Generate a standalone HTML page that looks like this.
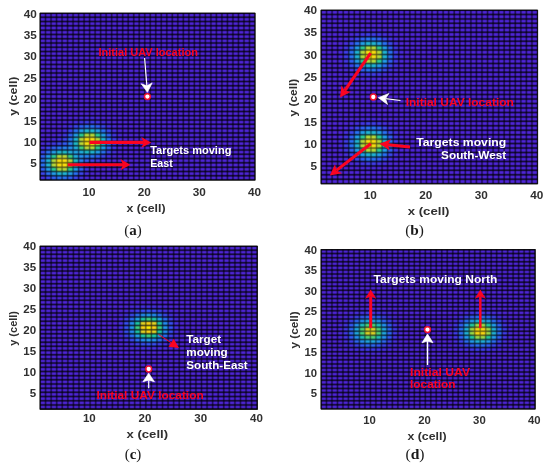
<!DOCTYPE html>
<html lang="en"><head><meta charset="utf-8"><title>UAV target scenarios</title>
<style>html,body{margin:0;padding:0;background:#fff}body{width:550px;height:467px;overflow:hidden}svg{display:block;font-family:"Liberation Sans",Arial,sans-serif}</style></head><body>
<svg width="550" height="467" viewBox="0 0 550 467">
<defs><filter id="soft" x="-2%" y="-2%" width="104%" height="104%"><feGaussianBlur stdDeviation="0.7"/></filter><filter id="tsoft"><feGaussianBlur stdDeviation="0.3"/></filter><radialGradient id="glowH"><stop offset="0" stop-color="#ffe800" stop-opacity="0.5"/><stop offset="0.22" stop-color="#e6e020" stop-opacity="0.45"/><stop offset="0.42" stop-color="#40d088" stop-opacity="0.34"/><stop offset="0.62" stop-color="#20a8e8" stop-opacity="0.24"/><stop offset="0.82" stop-color="#3070f8" stop-opacity="0.12"/><stop offset="1" stop-color="#4050f0" stop-opacity="0"/></radialGradient><radialGradient id="glowL"><stop offset="0" stop-color="#d8e020" stop-opacity="0.5"/><stop offset="0.2" stop-color="#90d850" stop-opacity="0.42"/><stop offset="0.4" stop-color="#30c8a0" stop-opacity="0.32"/><stop offset="0.62" stop-color="#20a0e8" stop-opacity="0.22"/><stop offset="0.82" stop-color="#3070f8" stop-opacity="0.1"/><stop offset="1" stop-color="#4050f0" stop-opacity="0"/></radialGradient></defs>
<rect width="550" height="467" fill="#fff"/>
<clipPath id="cpa"><rect x="39.3" y="12.5" width="216.5" height="168.3"/></clipPath>
<g clip-path="url(#cpa)">
<rect x="40" y="13" width="215" height="167" fill="#4f26d7"/>
<rect x="40" y="175.72" width="5.56" height="4.33" fill="#4731e3"/>
<rect x="40" y="171.44" width="5.56" height="4.33" fill="#3d46ee"/>
<rect x="40" y="167.15" width="5.56" height="4.33" fill="#315ef5"/>
<rect x="40" y="162.87" width="5.56" height="4.33" fill="#2a6ff5"/>
<rect x="40" y="158.59" width="5.56" height="4.33" fill="#2a6ff5"/>
<rect x="40" y="154.31" width="5.56" height="4.33" fill="#315ef5"/>
<rect x="40" y="150.03" width="5.56" height="4.33" fill="#3d46ee"/>
<rect x="40" y="145.74" width="5.56" height="4.33" fill="#4731e3"/>
<rect x="40" y="141.46" width="5.56" height="4.33" fill="#4c2adc"/>
<rect x="45.51" y="175.72" width="5.56" height="4.33" fill="#3d46ee"/>
<rect x="45.51" y="171.44" width="5.56" height="4.33" fill="#2a6ff5"/>
<rect x="45.51" y="167.15" width="5.56" height="4.33" fill="#229ceb"/>
<rect x="45.51" y="162.87" width="5.56" height="4.33" fill="#1eb3d8"/>
<rect x="45.51" y="158.59" width="5.56" height="4.33" fill="#1eb3d8"/>
<rect x="45.51" y="154.31" width="5.56" height="4.33" fill="#229ceb"/>
<rect x="45.51" y="150.03" width="5.56" height="4.33" fill="#2a6ff5"/>
<rect x="45.51" y="145.74" width="5.56" height="4.33" fill="#3d46ef"/>
<rect x="45.51" y="141.46" width="5.56" height="4.33" fill="#482fe1"/>
<rect x="51.03" y="175.72" width="5.56" height="4.33" fill="#315ef5"/>
<rect x="51.03" y="171.44" width="5.56" height="4.33" fill="#229ceb"/>
<rect x="51.03" y="167.15" width="5.56" height="4.33" fill="#26cb94"/>
<rect x="51.03" y="162.87" width="5.56" height="4.33" fill="#c8d82c"/>
<rect x="51.03" y="158.59" width="5.56" height="4.33" fill="#c8d82c"/>
<rect x="51.03" y="154.31" width="5.56" height="4.33" fill="#27cb93"/>
<rect x="51.03" y="150.03" width="5.56" height="4.33" fill="#229ceb"/>
<rect x="51.03" y="145.74" width="5.56" height="4.33" fill="#3160f5"/>
<rect x="51.03" y="141.46" width="5.56" height="4.33" fill="#4338e7"/>
<rect x="51.03" y="137.18" width="5.56" height="4.33" fill="#4b2bdd"/>
<rect x="56.54" y="175.72" width="5.56" height="4.33" fill="#2a6ff5"/>
<rect x="56.54" y="171.44" width="5.56" height="4.33" fill="#1eb3d8"/>
<rect x="56.54" y="167.15" width="5.56" height="4.33" fill="#c8d82c"/>
<rect x="56.54" y="162.87" width="5.56" height="4.33" fill="#ffdb0d"/>
<rect x="56.54" y="158.59" width="5.56" height="4.33" fill="#ffdb0d"/>
<rect x="56.54" y="154.31" width="5.56" height="4.33" fill="#ccd72b"/>
<rect x="56.54" y="150.03" width="5.56" height="4.33" fill="#1eb5d5"/>
<rect x="56.54" y="145.74" width="5.56" height="4.33" fill="#2875f5"/>
<rect x="56.54" y="141.46" width="5.56" height="4.33" fill="#3d46ee"/>
<rect x="56.54" y="137.18" width="5.56" height="4.33" fill="#4731e2"/>
<rect x="56.54" y="132.9" width="5.56" height="4.33" fill="#4b2bdd"/>
<rect x="62.05" y="175.72" width="5.56" height="4.33" fill="#2a6ff5"/>
<rect x="62.05" y="171.44" width="5.56" height="4.33" fill="#1eb3d8"/>
<rect x="62.05" y="167.15" width="5.56" height="4.33" fill="#c8d82c"/>
<rect x="62.05" y="162.87" width="5.56" height="4.33" fill="#ffdb0d"/>
<rect x="62.05" y="158.59" width="5.56" height="4.33" fill="#ffdd0c"/>
<rect x="62.05" y="154.31" width="5.56" height="4.33" fill="#d6d527"/>
<rect x="62.05" y="150.03" width="5.56" height="4.33" fill="#1cbac6"/>
<rect x="62.05" y="145.74" width="5.56" height="4.33" fill="#2684f3"/>
<rect x="62.05" y="141.46" width="5.56" height="4.33" fill="#335bf5"/>
<rect x="62.05" y="137.18" width="5.56" height="4.33" fill="#3d46ee"/>
<rect x="62.05" y="132.9" width="5.56" height="4.33" fill="#4338e7"/>
<rect x="62.05" y="128.62" width="5.56" height="4.33" fill="#482fe1"/>
<rect x="62.05" y="124.33" width="5.56" height="4.33" fill="#4c2adc"/>
<rect x="67.56" y="175.72" width="5.56" height="4.33" fill="#315ef5"/>
<rect x="67.56" y="171.44" width="5.56" height="4.33" fill="#229ceb"/>
<rect x="67.56" y="167.15" width="5.56" height="4.33" fill="#27cb93"/>
<rect x="67.56" y="162.87" width="5.56" height="4.33" fill="#ccd72b"/>
<rect x="67.56" y="158.59" width="5.56" height="4.33" fill="#d6d527"/>
<rect x="67.56" y="154.31" width="5.56" height="4.33" fill="#44d278"/>
<rect x="67.56" y="150.03" width="5.56" height="4.33" fill="#1eb3d8"/>
<rect x="67.56" y="145.74" width="5.56" height="4.33" fill="#2397ef"/>
<rect x="67.56" y="141.46" width="5.56" height="4.33" fill="#2684f3"/>
<rect x="67.56" y="137.18" width="5.56" height="4.33" fill="#2875f5"/>
<rect x="67.56" y="132.9" width="5.56" height="4.33" fill="#3160f5"/>
<rect x="67.56" y="128.62" width="5.56" height="4.33" fill="#3d46ef"/>
<rect x="67.56" y="124.33" width="5.56" height="4.33" fill="#4731e3"/>
<rect x="67.56" y="120.05" width="5.56" height="4.33" fill="#4c2adb"/>
<rect x="73.08" y="175.72" width="5.56" height="4.33" fill="#3d46ee"/>
<rect x="73.08" y="171.44" width="5.56" height="4.33" fill="#2a6ff5"/>
<rect x="73.08" y="167.15" width="5.56" height="4.33" fill="#229ceb"/>
<rect x="73.08" y="162.87" width="5.56" height="4.33" fill="#1eb5d5"/>
<rect x="73.08" y="158.59" width="5.56" height="4.33" fill="#1cbac6"/>
<rect x="73.08" y="154.31" width="5.56" height="4.33" fill="#1eb3d8"/>
<rect x="73.08" y="150.03" width="5.56" height="4.33" fill="#1faddd"/>
<rect x="73.08" y="145.74" width="5.56" height="4.33" fill="#1eb3d8"/>
<rect x="73.08" y="141.46" width="5.56" height="4.33" fill="#1cbac6"/>
<rect x="73.08" y="137.18" width="5.56" height="4.33" fill="#1eb5d5"/>
<rect x="73.08" y="132.9" width="5.56" height="4.33" fill="#229ceb"/>
<rect x="73.08" y="128.62" width="5.56" height="4.33" fill="#2a6ff5"/>
<rect x="73.08" y="124.33" width="5.56" height="4.33" fill="#3d46ee"/>
<rect x="73.08" y="120.05" width="5.56" height="4.33" fill="#482fe0"/>
<rect x="78.59" y="175.72" width="5.56" height="4.33" fill="#4731e3"/>
<rect x="78.59" y="171.44" width="5.56" height="4.33" fill="#3d46ef"/>
<rect x="78.59" y="167.15" width="5.56" height="4.33" fill="#3160f5"/>
<rect x="78.59" y="162.87" width="5.56" height="4.33" fill="#2875f5"/>
<rect x="78.59" y="158.59" width="5.56" height="4.33" fill="#2684f3"/>
<rect x="78.59" y="154.31" width="5.56" height="4.33" fill="#2397ef"/>
<rect x="78.59" y="150.03" width="5.56" height="4.33" fill="#1eb3d8"/>
<rect x="78.59" y="145.74" width="5.56" height="4.33" fill="#44d278"/>
<rect x="78.59" y="141.46" width="5.56" height="4.33" fill="#d6d527"/>
<rect x="78.59" y="137.18" width="5.56" height="4.33" fill="#ccd72b"/>
<rect x="78.59" y="132.9" width="5.56" height="4.33" fill="#27cb93"/>
<rect x="78.59" y="128.62" width="5.56" height="4.33" fill="#229ceb"/>
<rect x="78.59" y="124.33" width="5.56" height="4.33" fill="#315ef5"/>
<rect x="78.59" y="120.05" width="5.56" height="4.33" fill="#4436e6"/>
<rect x="78.59" y="115.77" width="5.56" height="4.33" fill="#4c2adb"/>
<rect x="84.1" y="175.72" width="5.56" height="4.33" fill="#4c2adc"/>
<rect x="84.1" y="171.44" width="5.56" height="4.33" fill="#482fe1"/>
<rect x="84.1" y="167.15" width="5.56" height="4.33" fill="#4338e7"/>
<rect x="84.1" y="162.87" width="5.56" height="4.33" fill="#3d46ee"/>
<rect x="84.1" y="158.59" width="5.56" height="4.33" fill="#335bf5"/>
<rect x="84.1" y="154.31" width="5.56" height="4.33" fill="#2684f3"/>
<rect x="84.1" y="150.03" width="5.56" height="4.33" fill="#1cbac6"/>
<rect x="84.1" y="145.74" width="5.56" height="4.33" fill="#d6d527"/>
<rect x="84.1" y="141.46" width="5.56" height="4.33" fill="#ffdd0c"/>
<rect x="84.1" y="137.18" width="5.56" height="4.33" fill="#ffdb0d"/>
<rect x="84.1" y="132.9" width="5.56" height="4.33" fill="#c8d82c"/>
<rect x="84.1" y="128.62" width="5.56" height="4.33" fill="#1eb3d8"/>
<rect x="84.1" y="124.33" width="5.56" height="4.33" fill="#2a6ff5"/>
<rect x="84.1" y="120.05" width="5.56" height="4.33" fill="#413dea"/>
<rect x="84.1" y="115.77" width="5.56" height="4.33" fill="#4b2bdd"/>
<rect x="89.62" y="167.15" width="5.56" height="4.33" fill="#4b2bdd"/>
<rect x="89.62" y="162.87" width="5.56" height="4.33" fill="#4731e2"/>
<rect x="89.62" y="158.59" width="5.56" height="4.33" fill="#3d46ee"/>
<rect x="89.62" y="154.31" width="5.56" height="4.33" fill="#2875f5"/>
<rect x="89.62" y="150.03" width="5.56" height="4.33" fill="#1eb5d5"/>
<rect x="89.62" y="145.74" width="5.56" height="4.33" fill="#ccd72b"/>
<rect x="89.62" y="141.46" width="5.56" height="4.33" fill="#ffdb0d"/>
<rect x="89.62" y="137.18" width="5.56" height="4.33" fill="#ffdb0d"/>
<rect x="89.62" y="132.9" width="5.56" height="4.33" fill="#c8d82c"/>
<rect x="89.62" y="128.62" width="5.56" height="4.33" fill="#1eb3d8"/>
<rect x="89.62" y="124.33" width="5.56" height="4.33" fill="#2a6ff5"/>
<rect x="89.62" y="120.05" width="5.56" height="4.33" fill="#413dea"/>
<rect x="89.62" y="115.77" width="5.56" height="4.33" fill="#4b2bdd"/>
<rect x="95.13" y="162.87" width="5.56" height="4.33" fill="#4b2bdd"/>
<rect x="95.13" y="158.59" width="5.56" height="4.33" fill="#4338e7"/>
<rect x="95.13" y="154.31" width="5.56" height="4.33" fill="#3160f5"/>
<rect x="95.13" y="150.03" width="5.56" height="4.33" fill="#229ceb"/>
<rect x="95.13" y="145.74" width="5.56" height="4.33" fill="#27cb93"/>
<rect x="95.13" y="141.46" width="5.56" height="4.33" fill="#c8d82c"/>
<rect x="95.13" y="137.18" width="5.56" height="4.33" fill="#c8d82c"/>
<rect x="95.13" y="132.9" width="5.56" height="4.33" fill="#26cb94"/>
<rect x="95.13" y="128.62" width="5.56" height="4.33" fill="#229ceb"/>
<rect x="95.13" y="124.33" width="5.56" height="4.33" fill="#315ef5"/>
<rect x="95.13" y="120.05" width="5.56" height="4.33" fill="#4436e6"/>
<rect x="95.13" y="115.77" width="5.56" height="4.33" fill="#4c2adb"/>
<rect x="100.64" y="158.59" width="5.56" height="4.33" fill="#482fe1"/>
<rect x="100.64" y="154.31" width="5.56" height="4.33" fill="#3d46ef"/>
<rect x="100.64" y="150.03" width="5.56" height="4.33" fill="#2a6ff5"/>
<rect x="100.64" y="145.74" width="5.56" height="4.33" fill="#229ceb"/>
<rect x="100.64" y="141.46" width="5.56" height="4.33" fill="#1eb3d8"/>
<rect x="100.64" y="137.18" width="5.56" height="4.33" fill="#1eb3d8"/>
<rect x="100.64" y="132.9" width="5.56" height="4.33" fill="#229ceb"/>
<rect x="100.64" y="128.62" width="5.56" height="4.33" fill="#2a6ff5"/>
<rect x="100.64" y="124.33" width="5.56" height="4.33" fill="#3d46ee"/>
<rect x="100.64" y="120.05" width="5.56" height="4.33" fill="#482fe0"/>
<rect x="106.15" y="158.59" width="5.56" height="4.33" fill="#4c2adc"/>
<rect x="106.15" y="154.31" width="5.56" height="4.33" fill="#4731e3"/>
<rect x="106.15" y="150.03" width="5.56" height="4.33" fill="#3d46ee"/>
<rect x="106.15" y="145.74" width="5.56" height="4.33" fill="#315ef5"/>
<rect x="106.15" y="141.46" width="5.56" height="4.33" fill="#2a6ff5"/>
<rect x="106.15" y="137.18" width="5.56" height="4.33" fill="#2a6ff5"/>
<rect x="106.15" y="132.9" width="5.56" height="4.33" fill="#315ef5"/>
<rect x="106.15" y="128.62" width="5.56" height="4.33" fill="#3d46ee"/>
<rect x="106.15" y="124.33" width="5.56" height="4.33" fill="#4731e3"/>
<rect x="106.15" y="120.05" width="5.56" height="4.33" fill="#4c2adb"/>
<rect x="111.67" y="154.31" width="5.56" height="4.33" fill="#4c2adb"/>
<rect x="111.67" y="150.03" width="5.56" height="4.33" fill="#482fe0"/>
<rect x="111.67" y="145.74" width="5.56" height="4.33" fill="#4436e6"/>
<rect x="111.67" y="141.46" width="5.56" height="4.33" fill="#413dea"/>
<rect x="111.67" y="137.18" width="5.56" height="4.33" fill="#413dea"/>
<rect x="111.67" y="132.9" width="5.56" height="4.33" fill="#4436e6"/>
<rect x="111.67" y="128.62" width="5.56" height="4.33" fill="#482fe0"/>
<rect x="111.67" y="124.33" width="5.56" height="4.33" fill="#4c2adb"/>
<rect x="117.18" y="145.74" width="5.56" height="4.33" fill="#4c2adb"/>
<rect x="117.18" y="141.46" width="5.56" height="4.33" fill="#4b2bdd"/>
<rect x="117.18" y="137.18" width="5.56" height="4.33" fill="#4b2bdd"/>
<rect x="117.18" y="132.9" width="5.56" height="4.33" fill="#4c2adb"/>
<path d="M40 13V180M45.51 13V180M51.03 13V180M56.54 13V180M62.05 13V180M67.56 13V180M73.08 13V180M78.59 13V180M84.1 13V180M89.62 13V180M95.13 13V180M100.64 13V180M106.15 13V180M111.67 13V180M117.18 13V180M122.69 13V180M128.21 13V180M133.72 13V180M139.23 13V180M144.74 13V180M150.26 13V180M155.77 13V180M161.28 13V180M166.79 13V180M172.31 13V180M177.82 13V180M183.33 13V180M188.85 13V180M194.36 13V180M199.87 13V180M205.38 13V180M210.9 13V180M216.41 13V180M221.92 13V180M227.44 13V180M232.95 13V180M238.46 13V180M243.97 13V180M249.49 13V180M255 13V180" stroke="#000" stroke-opacity="0.018" stroke-width="3.5" fill="none"/>
<path d="M40 13V180M45.51 13V180M51.03 13V180M56.54 13V180M62.05 13V180M67.56 13V180M73.08 13V180M78.59 13V180M84.1 13V180M89.62 13V180M95.13 13V180M100.64 13V180M106.15 13V180M111.67 13V180M117.18 13V180M122.69 13V180M128.21 13V180M133.72 13V180M139.23 13V180M144.74 13V180M150.26 13V180M155.77 13V180M161.28 13V180M166.79 13V180M172.31 13V180M177.82 13V180M183.33 13V180M188.85 13V180M194.36 13V180M199.87 13V180M205.38 13V180M210.9 13V180M216.41 13V180M221.92 13V180M227.44 13V180M232.95 13V180M238.46 13V180M243.97 13V180M249.49 13V180M255 13V180" stroke="#000" stroke-opacity="0.118" stroke-width="2.5" fill="none"/>
<path d="M40 13V180M45.51 13V180M51.03 13V180M56.54 13V180M62.05 13V180M67.56 13V180M73.08 13V180M78.59 13V180M84.1 13V180M89.62 13V180M95.13 13V180M100.64 13V180M106.15 13V180M111.67 13V180M117.18 13V180M122.69 13V180M128.21 13V180M133.72 13V180M139.23 13V180M144.74 13V180M150.26 13V180M155.77 13V180M161.28 13V180M166.79 13V180M172.31 13V180M177.82 13V180M183.33 13V180M188.85 13V180M194.36 13V180M199.87 13V180M205.38 13V180M210.9 13V180M216.41 13V180M221.92 13V180M227.44 13V180M232.95 13V180M238.46 13V180M243.97 13V180M249.49 13V180M255 13V180" stroke="#000" stroke-opacity="0.344" stroke-width="1.5" fill="none"/>
<path d="M40 13V180M45.51 13V180M51.03 13V180M56.54 13V180M62.05 13V180M67.56 13V180M73.08 13V180M78.59 13V180M84.1 13V180M89.62 13V180M95.13 13V180M100.64 13V180M106.15 13V180M111.67 13V180M117.18 13V180M122.69 13V180M128.21 13V180M133.72 13V180M139.23 13V180M144.74 13V180M150.26 13V180M155.77 13V180M161.28 13V180M166.79 13V180M172.31 13V180M177.82 13V180M183.33 13V180M188.85 13V180M194.36 13V180M199.87 13V180M205.38 13V180M210.9 13V180M216.41 13V180M221.92 13V180M227.44 13V180M232.95 13V180M238.46 13V180M243.97 13V180M249.49 13V180M255 13V180" stroke="#000" stroke-opacity="0.353" stroke-width="0.6" fill="none"/>
<path d="M40 13H255M40 17.28H255M40 21.56H255M40 25.85H255M40 30.13H255M40 34.41H255M40 38.69H255M40 42.97H255M40 47.26H255M40 51.54H255M40 55.82H255M40 60.1H255M40 64.38H255M40 68.67H255M40 72.95H255M40 77.23H255M40 81.51H255M40 85.79H255M40 90.08H255M40 94.36H255M40 98.64H255M40 102.92H255M40 107.21H255M40 111.49H255M40 115.77H255M40 120.05H255M40 124.33H255M40 128.62H255M40 132.9H255M40 137.18H255M40 141.46H255M40 145.74H255M40 150.03H255M40 154.31H255M40 158.59H255M40 162.87H255M40 167.15H255M40 171.44H255M40 175.72H255M40 180H255" stroke="#000" stroke-opacity="0.041" stroke-width="3.5" fill="none"/>
<path d="M40 13H255M40 17.28H255M40 21.56H255M40 25.85H255M40 30.13H255M40 34.41H255M40 38.69H255M40 42.97H255M40 47.26H255M40 51.54H255M40 55.82H255M40 60.1H255M40 64.38H255M40 68.67H255M40 72.95H255M40 77.23H255M40 81.51H255M40 85.79H255M40 90.08H255M40 94.36H255M40 98.64H255M40 102.92H255M40 107.21H255M40 111.49H255M40 115.77H255M40 120.05H255M40 124.33H255M40 128.62H255M40 132.9H255M40 137.18H255M40 141.46H255M40 145.74H255M40 150.03H255M40 154.31H255M40 158.59H255M40 162.87H255M40 167.15H255M40 171.44H255M40 175.72H255M40 180H255" stroke="#000" stroke-opacity="0.196" stroke-width="2.5" fill="none"/>
<path d="M40 13H255M40 17.28H255M40 21.56H255M40 25.85H255M40 30.13H255M40 34.41H255M40 38.69H255M40 42.97H255M40 47.26H255M40 51.54H255M40 55.82H255M40 60.1H255M40 64.38H255M40 68.67H255M40 72.95H255M40 77.23H255M40 81.51H255M40 85.79H255M40 90.08H255M40 94.36H255M40 98.64H255M40 102.92H255M40 107.21H255M40 111.49H255M40 115.77H255M40 120.05H255M40 124.33H255M40 128.62H255M40 132.9H255M40 137.18H255M40 141.46H255M40 145.74H255M40 150.03H255M40 154.31H255M40 158.59H255M40 162.87H255M40 167.15H255M40 171.44H255M40 175.72H255M40 180H255" stroke="#000" stroke-opacity="0.469" stroke-width="1.5" fill="none"/>
<path d="M40 13H255M40 17.28H255M40 21.56H255M40 25.85H255M40 30.13H255M40 34.41H255M40 38.69H255M40 42.97H255M40 47.26H255M40 51.54H255M40 55.82H255M40 60.1H255M40 64.38H255M40 68.67H255M40 72.95H255M40 77.23H255M40 81.51H255M40 85.79H255M40 90.08H255M40 94.36H255M40 98.64H255M40 102.92H255M40 107.21H255M40 111.49H255M40 115.77H255M40 120.05H255M40 124.33H255M40 128.62H255M40 132.9H255M40 137.18H255M40 141.46H255M40 145.74H255M40 150.03H255M40 154.31H255M40 158.59H255M40 162.87H255M40 167.15H255M40 171.44H255M40 175.72H255M40 180H255" stroke="#000" stroke-opacity="0.493" stroke-width="0.6" fill="none"/>
<rect x="40.05" y="13.2" width="215.1" height="167" fill="none" stroke="#000" stroke-opacity="0.75" stroke-width="1.3"/>
<ellipse cx="62.05" cy="162.87" rx="25.36" ry="19.7" fill="url(#glowH)" opacity="0.8"/>
<ellipse cx="89.62" cy="141.46" rx="25.36" ry="19.7" fill="url(#glowH)" opacity="0.8"/>
</g>
<clipPath id="cpb"><rect x="320.3" y="9.5" width="218" height="175"/></clipPath>
<g clip-path="url(#cpb)">
<rect x="321" y="10" width="216.5" height="173.7" fill="#4f26d7"/>
<rect x="337.65" y="148.07" width="5.6" height="4.5" fill="#4c2adb"/>
<rect x="337.65" y="143.62" width="5.6" height="4.5" fill="#4b2bdd"/>
<rect x="337.65" y="139.16" width="5.6" height="4.5" fill="#4b2bdd"/>
<rect x="337.65" y="134.71" width="5.6" height="4.5" fill="#4c2adb"/>
<rect x="337.65" y="58.99" width="5.6" height="4.5" fill="#4c2adb"/>
<rect x="337.65" y="54.54" width="5.6" height="4.5" fill="#4b2bdd"/>
<rect x="337.65" y="50.08" width="5.6" height="4.5" fill="#4b2bdd"/>
<rect x="337.65" y="45.63" width="5.6" height="4.5" fill="#4c2adb"/>
<rect x="343.21" y="156.98" width="5.6" height="4.5" fill="#4c2adb"/>
<rect x="343.21" y="152.52" width="5.6" height="4.5" fill="#482fe0"/>
<rect x="343.21" y="148.07" width="5.6" height="4.5" fill="#4436e6"/>
<rect x="343.21" y="143.62" width="5.6" height="4.5" fill="#413dea"/>
<rect x="343.21" y="139.16" width="5.6" height="4.5" fill="#413dea"/>
<rect x="343.21" y="134.71" width="5.6" height="4.5" fill="#4436e6"/>
<rect x="343.21" y="130.25" width="5.6" height="4.5" fill="#482fe0"/>
<rect x="343.21" y="125.8" width="5.6" height="4.5" fill="#4c2adb"/>
<rect x="343.21" y="67.9" width="5.6" height="4.5" fill="#4c2adb"/>
<rect x="343.21" y="63.45" width="5.6" height="4.5" fill="#482fe0"/>
<rect x="343.21" y="58.99" width="5.6" height="4.5" fill="#4436e6"/>
<rect x="343.21" y="54.54" width="5.6" height="4.5" fill="#413dea"/>
<rect x="343.21" y="50.08" width="5.6" height="4.5" fill="#413dea"/>
<rect x="343.21" y="45.63" width="5.6" height="4.5" fill="#4436e6"/>
<rect x="343.21" y="41.18" width="5.6" height="4.5" fill="#482fe0"/>
<rect x="343.21" y="36.72" width="5.6" height="4.5" fill="#4c2adb"/>
<rect x="348.76" y="161.43" width="5.6" height="4.5" fill="#4c2adb"/>
<rect x="348.76" y="156.98" width="5.6" height="4.5" fill="#4731e3"/>
<rect x="348.76" y="152.52" width="5.6" height="4.5" fill="#3d46ee"/>
<rect x="348.76" y="148.07" width="5.6" height="4.5" fill="#315ef5"/>
<rect x="348.76" y="143.62" width="5.6" height="4.5" fill="#2a6ff5"/>
<rect x="348.76" y="139.16" width="5.6" height="4.5" fill="#2a6ff5"/>
<rect x="348.76" y="134.71" width="5.6" height="4.5" fill="#315ef5"/>
<rect x="348.76" y="130.25" width="5.6" height="4.5" fill="#3d46ee"/>
<rect x="348.76" y="125.8" width="5.6" height="4.5" fill="#4731e3"/>
<rect x="348.76" y="121.35" width="5.6" height="4.5" fill="#4c2adb"/>
<rect x="348.76" y="72.35" width="5.6" height="4.5" fill="#4c2adb"/>
<rect x="348.76" y="67.9" width="5.6" height="4.5" fill="#4731e3"/>
<rect x="348.76" y="63.45" width="5.6" height="4.5" fill="#3d46ee"/>
<rect x="348.76" y="58.99" width="5.6" height="4.5" fill="#315ef5"/>
<rect x="348.76" y="54.54" width="5.6" height="4.5" fill="#2a6ff5"/>
<rect x="348.76" y="50.08" width="5.6" height="4.5" fill="#2a6ff5"/>
<rect x="348.76" y="45.63" width="5.6" height="4.5" fill="#315ef5"/>
<rect x="348.76" y="41.18" width="5.6" height="4.5" fill="#3d46ee"/>
<rect x="348.76" y="36.72" width="5.6" height="4.5" fill="#4731e3"/>
<rect x="348.76" y="32.27" width="5.6" height="4.5" fill="#4c2adb"/>
<rect x="354.31" y="161.43" width="5.6" height="4.5" fill="#482fe0"/>
<rect x="354.31" y="156.98" width="5.6" height="4.5" fill="#3d46ee"/>
<rect x="354.31" y="152.52" width="5.6" height="4.5" fill="#2a6ff5"/>
<rect x="354.31" y="148.07" width="5.6" height="4.5" fill="#229ceb"/>
<rect x="354.31" y="143.62" width="5.6" height="4.5" fill="#1eb3d8"/>
<rect x="354.31" y="139.16" width="5.6" height="4.5" fill="#1eb3d8"/>
<rect x="354.31" y="134.71" width="5.6" height="4.5" fill="#229ceb"/>
<rect x="354.31" y="130.25" width="5.6" height="4.5" fill="#2a6ff5"/>
<rect x="354.31" y="125.8" width="5.6" height="4.5" fill="#3d46ee"/>
<rect x="354.31" y="121.35" width="5.6" height="4.5" fill="#482fe0"/>
<rect x="354.31" y="72.35" width="5.6" height="4.5" fill="#482fe0"/>
<rect x="354.31" y="67.9" width="5.6" height="4.5" fill="#3d46ee"/>
<rect x="354.31" y="63.45" width="5.6" height="4.5" fill="#2a6ff5"/>
<rect x="354.31" y="58.99" width="5.6" height="4.5" fill="#229ceb"/>
<rect x="354.31" y="54.54" width="5.6" height="4.5" fill="#1eb3d8"/>
<rect x="354.31" y="50.08" width="5.6" height="4.5" fill="#1eb3d8"/>
<rect x="354.31" y="45.63" width="5.6" height="4.5" fill="#229ceb"/>
<rect x="354.31" y="41.18" width="5.6" height="4.5" fill="#2a6ff5"/>
<rect x="354.31" y="36.72" width="5.6" height="4.5" fill="#3d46ee"/>
<rect x="354.31" y="32.27" width="5.6" height="4.5" fill="#482fe0"/>
<rect x="359.86" y="165.88" width="5.6" height="4.5" fill="#4c2adb"/>
<rect x="359.86" y="161.43" width="5.6" height="4.5" fill="#4436e6"/>
<rect x="359.86" y="156.98" width="5.6" height="4.5" fill="#315ef5"/>
<rect x="359.86" y="152.52" width="5.6" height="4.5" fill="#229ceb"/>
<rect x="359.86" y="148.07" width="5.6" height="4.5" fill="#26cb94"/>
<rect x="359.86" y="143.62" width="5.6" height="4.5" fill="#c8d82c"/>
<rect x="359.86" y="139.16" width="5.6" height="4.5" fill="#c8d82c"/>
<rect x="359.86" y="134.71" width="5.6" height="4.5" fill="#26cb94"/>
<rect x="359.86" y="130.25" width="5.6" height="4.5" fill="#229ceb"/>
<rect x="359.86" y="125.8" width="5.6" height="4.5" fill="#315ef5"/>
<rect x="359.86" y="121.35" width="5.6" height="4.5" fill="#4436e6"/>
<rect x="359.86" y="116.89" width="5.6" height="4.5" fill="#4c2adb"/>
<rect x="359.86" y="76.81" width="5.6" height="4.5" fill="#4c2adb"/>
<rect x="359.86" y="72.35" width="5.6" height="4.5" fill="#4436e6"/>
<rect x="359.86" y="67.9" width="5.6" height="4.5" fill="#315ef5"/>
<rect x="359.86" y="63.45" width="5.6" height="4.5" fill="#229ceb"/>
<rect x="359.86" y="58.99" width="5.6" height="4.5" fill="#26cb94"/>
<rect x="359.86" y="54.54" width="5.6" height="4.5" fill="#c8d82c"/>
<rect x="359.86" y="50.08" width="5.6" height="4.5" fill="#c8d82c"/>
<rect x="359.86" y="45.63" width="5.6" height="4.5" fill="#26cb94"/>
<rect x="359.86" y="41.18" width="5.6" height="4.5" fill="#229ceb"/>
<rect x="359.86" y="36.72" width="5.6" height="4.5" fill="#315ef5"/>
<rect x="359.86" y="32.27" width="5.6" height="4.5" fill="#4436e6"/>
<rect x="359.86" y="27.82" width="5.6" height="4.5" fill="#4c2adb"/>
<rect x="365.41" y="165.88" width="5.6" height="4.5" fill="#4b2bdd"/>
<rect x="365.41" y="161.43" width="5.6" height="4.5" fill="#413dea"/>
<rect x="365.41" y="156.98" width="5.6" height="4.5" fill="#2a6ff5"/>
<rect x="365.41" y="152.52" width="5.6" height="4.5" fill="#1eb3d8"/>
<rect x="365.41" y="148.07" width="5.6" height="4.5" fill="#c8d82c"/>
<rect x="365.41" y="143.62" width="5.6" height="4.5" fill="#ffda0d"/>
<rect x="365.41" y="139.16" width="5.6" height="4.5" fill="#ffda0d"/>
<rect x="365.41" y="134.71" width="5.6" height="4.5" fill="#c8d82c"/>
<rect x="365.41" y="130.25" width="5.6" height="4.5" fill="#1eb3d8"/>
<rect x="365.41" y="125.8" width="5.6" height="4.5" fill="#2a6ff5"/>
<rect x="365.41" y="121.35" width="5.6" height="4.5" fill="#413dea"/>
<rect x="365.41" y="116.89" width="5.6" height="4.5" fill="#4b2bdd"/>
<rect x="365.41" y="76.81" width="5.6" height="4.5" fill="#4b2bdd"/>
<rect x="365.41" y="72.35" width="5.6" height="4.5" fill="#413dea"/>
<rect x="365.41" y="67.9" width="5.6" height="4.5" fill="#2a6ff5"/>
<rect x="365.41" y="63.45" width="5.6" height="4.5" fill="#1eb3d8"/>
<rect x="365.41" y="58.99" width="5.6" height="4.5" fill="#c8d82c"/>
<rect x="365.41" y="54.54" width="5.6" height="4.5" fill="#ffda0d"/>
<rect x="365.41" y="50.08" width="5.6" height="4.5" fill="#ffda0d"/>
<rect x="365.41" y="45.63" width="5.6" height="4.5" fill="#c8d82c"/>
<rect x="365.41" y="41.18" width="5.6" height="4.5" fill="#1eb3d8"/>
<rect x="365.41" y="36.72" width="5.6" height="4.5" fill="#2a6ff5"/>
<rect x="365.41" y="32.27" width="5.6" height="4.5" fill="#413dea"/>
<rect x="365.41" y="27.82" width="5.6" height="4.5" fill="#4b2bdd"/>
<rect x="370.96" y="165.88" width="5.6" height="4.5" fill="#4b2bdd"/>
<rect x="370.96" y="161.43" width="5.6" height="4.5" fill="#413dea"/>
<rect x="370.96" y="156.98" width="5.6" height="4.5" fill="#2a6ff5"/>
<rect x="370.96" y="152.52" width="5.6" height="4.5" fill="#1eb3d8"/>
<rect x="370.96" y="148.07" width="5.6" height="4.5" fill="#c8d82c"/>
<rect x="370.96" y="143.62" width="5.6" height="4.5" fill="#ffda0d"/>
<rect x="370.96" y="139.16" width="5.6" height="4.5" fill="#ffda0d"/>
<rect x="370.96" y="134.71" width="5.6" height="4.5" fill="#c8d82c"/>
<rect x="370.96" y="130.25" width="5.6" height="4.5" fill="#1eb3d8"/>
<rect x="370.96" y="125.8" width="5.6" height="4.5" fill="#2a6ff5"/>
<rect x="370.96" y="121.35" width="5.6" height="4.5" fill="#413dea"/>
<rect x="370.96" y="116.89" width="5.6" height="4.5" fill="#4b2bdd"/>
<rect x="370.96" y="76.81" width="5.6" height="4.5" fill="#4b2bdd"/>
<rect x="370.96" y="72.35" width="5.6" height="4.5" fill="#413dea"/>
<rect x="370.96" y="67.9" width="5.6" height="4.5" fill="#2a6ff5"/>
<rect x="370.96" y="63.45" width="5.6" height="4.5" fill="#1eb3d8"/>
<rect x="370.96" y="58.99" width="5.6" height="4.5" fill="#c8d82c"/>
<rect x="370.96" y="54.54" width="5.6" height="4.5" fill="#ffda0d"/>
<rect x="370.96" y="50.08" width="5.6" height="4.5" fill="#ffda0d"/>
<rect x="370.96" y="45.63" width="5.6" height="4.5" fill="#c8d82c"/>
<rect x="370.96" y="41.18" width="5.6" height="4.5" fill="#1eb3d8"/>
<rect x="370.96" y="36.72" width="5.6" height="4.5" fill="#2a6ff5"/>
<rect x="370.96" y="32.27" width="5.6" height="4.5" fill="#413dea"/>
<rect x="370.96" y="27.82" width="5.6" height="4.5" fill="#4b2bdd"/>
<rect x="376.51" y="165.88" width="5.6" height="4.5" fill="#4c2adb"/>
<rect x="376.51" y="161.43" width="5.6" height="4.5" fill="#4436e6"/>
<rect x="376.51" y="156.98" width="5.6" height="4.5" fill="#315ef5"/>
<rect x="376.51" y="152.52" width="5.6" height="4.5" fill="#229ceb"/>
<rect x="376.51" y="148.07" width="5.6" height="4.5" fill="#26cb94"/>
<rect x="376.51" y="143.62" width="5.6" height="4.5" fill="#c8d82c"/>
<rect x="376.51" y="139.16" width="5.6" height="4.5" fill="#c8d82c"/>
<rect x="376.51" y="134.71" width="5.6" height="4.5" fill="#26cb94"/>
<rect x="376.51" y="130.25" width="5.6" height="4.5" fill="#229ceb"/>
<rect x="376.51" y="125.8" width="5.6" height="4.5" fill="#315ef5"/>
<rect x="376.51" y="121.35" width="5.6" height="4.5" fill="#4436e6"/>
<rect x="376.51" y="116.89" width="5.6" height="4.5" fill="#4c2adb"/>
<rect x="376.51" y="76.81" width="5.6" height="4.5" fill="#4c2adb"/>
<rect x="376.51" y="72.35" width="5.6" height="4.5" fill="#4436e6"/>
<rect x="376.51" y="67.9" width="5.6" height="4.5" fill="#315ef5"/>
<rect x="376.51" y="63.45" width="5.6" height="4.5" fill="#229ceb"/>
<rect x="376.51" y="58.99" width="5.6" height="4.5" fill="#26cb94"/>
<rect x="376.51" y="54.54" width="5.6" height="4.5" fill="#c8d82c"/>
<rect x="376.51" y="50.08" width="5.6" height="4.5" fill="#c8d82c"/>
<rect x="376.51" y="45.63" width="5.6" height="4.5" fill="#26cb94"/>
<rect x="376.51" y="41.18" width="5.6" height="4.5" fill="#229ceb"/>
<rect x="376.51" y="36.72" width="5.6" height="4.5" fill="#315ef5"/>
<rect x="376.51" y="32.27" width="5.6" height="4.5" fill="#4436e6"/>
<rect x="376.51" y="27.82" width="5.6" height="4.5" fill="#4c2adb"/>
<rect x="382.06" y="161.43" width="5.6" height="4.5" fill="#482fe0"/>
<rect x="382.06" y="156.98" width="5.6" height="4.5" fill="#3d46ee"/>
<rect x="382.06" y="152.52" width="5.6" height="4.5" fill="#2a6ff5"/>
<rect x="382.06" y="148.07" width="5.6" height="4.5" fill="#229ceb"/>
<rect x="382.06" y="143.62" width="5.6" height="4.5" fill="#1eb3d8"/>
<rect x="382.06" y="139.16" width="5.6" height="4.5" fill="#1eb3d8"/>
<rect x="382.06" y="134.71" width="5.6" height="4.5" fill="#229ceb"/>
<rect x="382.06" y="130.25" width="5.6" height="4.5" fill="#2a6ff5"/>
<rect x="382.06" y="125.8" width="5.6" height="4.5" fill="#3d46ee"/>
<rect x="382.06" y="121.35" width="5.6" height="4.5" fill="#482fe0"/>
<rect x="382.06" y="72.35" width="5.6" height="4.5" fill="#482fe0"/>
<rect x="382.06" y="67.9" width="5.6" height="4.5" fill="#3d46ee"/>
<rect x="382.06" y="63.45" width="5.6" height="4.5" fill="#2a6ff5"/>
<rect x="382.06" y="58.99" width="5.6" height="4.5" fill="#229ceb"/>
<rect x="382.06" y="54.54" width="5.6" height="4.5" fill="#1eb3d8"/>
<rect x="382.06" y="50.08" width="5.6" height="4.5" fill="#1eb3d8"/>
<rect x="382.06" y="45.63" width="5.6" height="4.5" fill="#229ceb"/>
<rect x="382.06" y="41.18" width="5.6" height="4.5" fill="#2a6ff5"/>
<rect x="382.06" y="36.72" width="5.6" height="4.5" fill="#3d46ee"/>
<rect x="382.06" y="32.27" width="5.6" height="4.5" fill="#482fe0"/>
<rect x="387.62" y="161.43" width="5.6" height="4.5" fill="#4c2adb"/>
<rect x="387.62" y="156.98" width="5.6" height="4.5" fill="#4731e3"/>
<rect x="387.62" y="152.52" width="5.6" height="4.5" fill="#3d46ee"/>
<rect x="387.62" y="148.07" width="5.6" height="4.5" fill="#315ef5"/>
<rect x="387.62" y="143.62" width="5.6" height="4.5" fill="#2a6ff5"/>
<rect x="387.62" y="139.16" width="5.6" height="4.5" fill="#2a6ff5"/>
<rect x="387.62" y="134.71" width="5.6" height="4.5" fill="#315ef5"/>
<rect x="387.62" y="130.25" width="5.6" height="4.5" fill="#3d46ee"/>
<rect x="387.62" y="125.8" width="5.6" height="4.5" fill="#4731e3"/>
<rect x="387.62" y="121.35" width="5.6" height="4.5" fill="#4c2adb"/>
<rect x="387.62" y="72.35" width="5.6" height="4.5" fill="#4c2adb"/>
<rect x="387.62" y="67.9" width="5.6" height="4.5" fill="#4731e3"/>
<rect x="387.62" y="63.45" width="5.6" height="4.5" fill="#3d46ee"/>
<rect x="387.62" y="58.99" width="5.6" height="4.5" fill="#315ef5"/>
<rect x="387.62" y="54.54" width="5.6" height="4.5" fill="#2a6ff5"/>
<rect x="387.62" y="50.08" width="5.6" height="4.5" fill="#2a6ff5"/>
<rect x="387.62" y="45.63" width="5.6" height="4.5" fill="#315ef5"/>
<rect x="387.62" y="41.18" width="5.6" height="4.5" fill="#3d46ee"/>
<rect x="387.62" y="36.72" width="5.6" height="4.5" fill="#4731e3"/>
<rect x="387.62" y="32.27" width="5.6" height="4.5" fill="#4c2adb"/>
<rect x="393.17" y="156.98" width="5.6" height="4.5" fill="#4c2adb"/>
<rect x="393.17" y="152.52" width="5.6" height="4.5" fill="#482fe0"/>
<rect x="393.17" y="148.07" width="5.6" height="4.5" fill="#4436e6"/>
<rect x="393.17" y="143.62" width="5.6" height="4.5" fill="#413dea"/>
<rect x="393.17" y="139.16" width="5.6" height="4.5" fill="#413dea"/>
<rect x="393.17" y="134.71" width="5.6" height="4.5" fill="#4436e6"/>
<rect x="393.17" y="130.25" width="5.6" height="4.5" fill="#482fe0"/>
<rect x="393.17" y="125.8" width="5.6" height="4.5" fill="#4c2adb"/>
<rect x="393.17" y="67.9" width="5.6" height="4.5" fill="#4c2adb"/>
<rect x="393.17" y="63.45" width="5.6" height="4.5" fill="#482fe0"/>
<rect x="393.17" y="58.99" width="5.6" height="4.5" fill="#4436e6"/>
<rect x="393.17" y="54.54" width="5.6" height="4.5" fill="#413dea"/>
<rect x="393.17" y="50.08" width="5.6" height="4.5" fill="#413dea"/>
<rect x="393.17" y="45.63" width="5.6" height="4.5" fill="#4436e6"/>
<rect x="393.17" y="41.18" width="5.6" height="4.5" fill="#482fe0"/>
<rect x="393.17" y="36.72" width="5.6" height="4.5" fill="#4c2adb"/>
<rect x="398.72" y="148.07" width="5.6" height="4.5" fill="#4c2adb"/>
<rect x="398.72" y="143.62" width="5.6" height="4.5" fill="#4b2bdd"/>
<rect x="398.72" y="139.16" width="5.6" height="4.5" fill="#4b2bdd"/>
<rect x="398.72" y="134.71" width="5.6" height="4.5" fill="#4c2adb"/>
<rect x="398.72" y="58.99" width="5.6" height="4.5" fill="#4c2adb"/>
<rect x="398.72" y="54.54" width="5.6" height="4.5" fill="#4b2bdd"/>
<rect x="398.72" y="50.08" width="5.6" height="4.5" fill="#4b2bdd"/>
<rect x="398.72" y="45.63" width="5.6" height="4.5" fill="#4c2adb"/>
<path d="M321 10V183.7M326.55 10V183.7M332.1 10V183.7M337.65 10V183.7M343.21 10V183.7M348.76 10V183.7M354.31 10V183.7M359.86 10V183.7M365.41 10V183.7M370.96 10V183.7M376.51 10V183.7M382.06 10V183.7M387.62 10V183.7M393.17 10V183.7M398.72 10V183.7M404.27 10V183.7M409.82 10V183.7M415.37 10V183.7M420.92 10V183.7M426.47 10V183.7M432.03 10V183.7M437.58 10V183.7M443.13 10V183.7M448.68 10V183.7M454.23 10V183.7M459.78 10V183.7M465.33 10V183.7M470.88 10V183.7M476.44 10V183.7M481.99 10V183.7M487.54 10V183.7M493.09 10V183.7M498.64 10V183.7M504.19 10V183.7M509.74 10V183.7M515.29 10V183.7M520.85 10V183.7M526.4 10V183.7M531.95 10V183.7M537.5 10V183.7" stroke="#000" stroke-opacity="0.018" stroke-width="3.5" fill="none"/>
<path d="M321 10V183.7M326.55 10V183.7M332.1 10V183.7M337.65 10V183.7M343.21 10V183.7M348.76 10V183.7M354.31 10V183.7M359.86 10V183.7M365.41 10V183.7M370.96 10V183.7M376.51 10V183.7M382.06 10V183.7M387.62 10V183.7M393.17 10V183.7M398.72 10V183.7M404.27 10V183.7M409.82 10V183.7M415.37 10V183.7M420.92 10V183.7M426.47 10V183.7M432.03 10V183.7M437.58 10V183.7M443.13 10V183.7M448.68 10V183.7M454.23 10V183.7M459.78 10V183.7M465.33 10V183.7M470.88 10V183.7M476.44 10V183.7M481.99 10V183.7M487.54 10V183.7M493.09 10V183.7M498.64 10V183.7M504.19 10V183.7M509.74 10V183.7M515.29 10V183.7M520.85 10V183.7M526.4 10V183.7M531.95 10V183.7M537.5 10V183.7" stroke="#000" stroke-opacity="0.118" stroke-width="2.5" fill="none"/>
<path d="M321 10V183.7M326.55 10V183.7M332.1 10V183.7M337.65 10V183.7M343.21 10V183.7M348.76 10V183.7M354.31 10V183.7M359.86 10V183.7M365.41 10V183.7M370.96 10V183.7M376.51 10V183.7M382.06 10V183.7M387.62 10V183.7M393.17 10V183.7M398.72 10V183.7M404.27 10V183.7M409.82 10V183.7M415.37 10V183.7M420.92 10V183.7M426.47 10V183.7M432.03 10V183.7M437.58 10V183.7M443.13 10V183.7M448.68 10V183.7M454.23 10V183.7M459.78 10V183.7M465.33 10V183.7M470.88 10V183.7M476.44 10V183.7M481.99 10V183.7M487.54 10V183.7M493.09 10V183.7M498.64 10V183.7M504.19 10V183.7M509.74 10V183.7M515.29 10V183.7M520.85 10V183.7M526.4 10V183.7M531.95 10V183.7M537.5 10V183.7" stroke="#000" stroke-opacity="0.344" stroke-width="1.5" fill="none"/>
<path d="M321 10V183.7M326.55 10V183.7M332.1 10V183.7M337.65 10V183.7M343.21 10V183.7M348.76 10V183.7M354.31 10V183.7M359.86 10V183.7M365.41 10V183.7M370.96 10V183.7M376.51 10V183.7M382.06 10V183.7M387.62 10V183.7M393.17 10V183.7M398.72 10V183.7M404.27 10V183.7M409.82 10V183.7M415.37 10V183.7M420.92 10V183.7M426.47 10V183.7M432.03 10V183.7M437.58 10V183.7M443.13 10V183.7M448.68 10V183.7M454.23 10V183.7M459.78 10V183.7M465.33 10V183.7M470.88 10V183.7M476.44 10V183.7M481.99 10V183.7M487.54 10V183.7M493.09 10V183.7M498.64 10V183.7M504.19 10V183.7M509.74 10V183.7M515.29 10V183.7M520.85 10V183.7M526.4 10V183.7M531.95 10V183.7M537.5 10V183.7" stroke="#000" stroke-opacity="0.353" stroke-width="0.6" fill="none"/>
<path d="M321 10H537.5M321 14.45H537.5M321 18.91H537.5M321 23.36H537.5M321 27.82H537.5M321 32.27H537.5M321 36.72H537.5M321 41.18H537.5M321 45.63H537.5M321 50.08H537.5M321 54.54H537.5M321 58.99H537.5M321 63.45H537.5M321 67.9H537.5M321 72.35H537.5M321 76.81H537.5M321 81.26H537.5M321 85.72H537.5M321 90.17H537.5M321 94.62H537.5M321 99.08H537.5M321 103.53H537.5M321 107.98H537.5M321 112.44H537.5M321 116.89H537.5M321 121.35H537.5M321 125.8H537.5M321 130.25H537.5M321 134.71H537.5M321 139.16H537.5M321 143.62H537.5M321 148.07H537.5M321 152.52H537.5M321 156.98H537.5M321 161.43H537.5M321 165.88H537.5M321 170.34H537.5M321 174.79H537.5M321 179.25H537.5M321 183.7H537.5" stroke="#000" stroke-opacity="0.041" stroke-width="3.5" fill="none"/>
<path d="M321 10H537.5M321 14.45H537.5M321 18.91H537.5M321 23.36H537.5M321 27.82H537.5M321 32.27H537.5M321 36.72H537.5M321 41.18H537.5M321 45.63H537.5M321 50.08H537.5M321 54.54H537.5M321 58.99H537.5M321 63.45H537.5M321 67.9H537.5M321 72.35H537.5M321 76.81H537.5M321 81.26H537.5M321 85.72H537.5M321 90.17H537.5M321 94.62H537.5M321 99.08H537.5M321 103.53H537.5M321 107.98H537.5M321 112.44H537.5M321 116.89H537.5M321 121.35H537.5M321 125.8H537.5M321 130.25H537.5M321 134.71H537.5M321 139.16H537.5M321 143.62H537.5M321 148.07H537.5M321 152.52H537.5M321 156.98H537.5M321 161.43H537.5M321 165.88H537.5M321 170.34H537.5M321 174.79H537.5M321 179.25H537.5M321 183.7H537.5" stroke="#000" stroke-opacity="0.196" stroke-width="2.5" fill="none"/>
<path d="M321 10H537.5M321 14.45H537.5M321 18.91H537.5M321 23.36H537.5M321 27.82H537.5M321 32.27H537.5M321 36.72H537.5M321 41.18H537.5M321 45.63H537.5M321 50.08H537.5M321 54.54H537.5M321 58.99H537.5M321 63.45H537.5M321 67.9H537.5M321 72.35H537.5M321 76.81H537.5M321 81.26H537.5M321 85.72H537.5M321 90.17H537.5M321 94.62H537.5M321 99.08H537.5M321 103.53H537.5M321 107.98H537.5M321 112.44H537.5M321 116.89H537.5M321 121.35H537.5M321 125.8H537.5M321 130.25H537.5M321 134.71H537.5M321 139.16H537.5M321 143.62H537.5M321 148.07H537.5M321 152.52H537.5M321 156.98H537.5M321 161.43H537.5M321 165.88H537.5M321 170.34H537.5M321 174.79H537.5M321 179.25H537.5M321 183.7H537.5" stroke="#000" stroke-opacity="0.469" stroke-width="1.5" fill="none"/>
<path d="M321 10H537.5M321 14.45H537.5M321 18.91H537.5M321 23.36H537.5M321 27.82H537.5M321 32.27H537.5M321 36.72H537.5M321 41.18H537.5M321 45.63H537.5M321 50.08H537.5M321 54.54H537.5M321 58.99H537.5M321 63.45H537.5M321 67.9H537.5M321 72.35H537.5M321 76.81H537.5M321 81.26H537.5M321 85.72H537.5M321 90.17H537.5M321 94.62H537.5M321 99.08H537.5M321 103.53H537.5M321 107.98H537.5M321 112.44H537.5M321 116.89H537.5M321 121.35H537.5M321 125.8H537.5M321 130.25H537.5M321 134.71H537.5M321 139.16H537.5M321 143.62H537.5M321 148.07H537.5M321 152.52H537.5M321 156.98H537.5M321 161.43H537.5M321 165.88H537.5M321 170.34H537.5M321 174.79H537.5M321 179.25H537.5M321 183.7H537.5" stroke="#000" stroke-opacity="0.493" stroke-width="0.6" fill="none"/>
<rect x="321.05" y="10.2" width="216.6" height="173.7" fill="none" stroke="#000" stroke-opacity="0.75" stroke-width="1.3"/>
<ellipse cx="370.96" cy="54.54" rx="25.54" ry="20.49" fill="url(#glowH)" opacity="0.8"/>
<ellipse cx="370.96" cy="143.62" rx="25.54" ry="20.49" fill="url(#glowH)" opacity="0.8"/>
</g>
<clipPath id="cpc"><rect x="39.3" y="245.5" width="218.7" height="164.4"/></clipPath>
<g clip-path="url(#cpc)">
<rect x="40" y="246" width="217.2" height="163.1" fill="#4f26d7"/>
<rect x="117.97" y="338.01" width="5.62" height="4.23" fill="#4c29db"/>
<rect x="117.97" y="333.82" width="5.62" height="4.23" fill="#4a2cde"/>
<rect x="117.97" y="329.64" width="5.62" height="4.23" fill="#482fe1"/>
<rect x="117.97" y="325.46" width="5.62" height="4.23" fill="#4731e2"/>
<rect x="117.97" y="321.28" width="5.62" height="4.23" fill="#482fe1"/>
<rect x="117.97" y="317.09" width="5.62" height="4.23" fill="#4a2cde"/>
<rect x="117.97" y="312.91" width="5.62" height="4.23" fill="#4c29db"/>
<rect x="123.54" y="342.19" width="5.62" height="4.23" fill="#4c2adc"/>
<rect x="123.54" y="338.01" width="5.62" height="4.23" fill="#4731e2"/>
<rect x="123.54" y="333.82" width="5.62" height="4.23" fill="#403feb"/>
<rect x="123.54" y="329.64" width="5.62" height="4.23" fill="#394ef3"/>
<rect x="123.54" y="325.46" width="5.62" height="4.23" fill="#3654f5"/>
<rect x="123.54" y="321.28" width="5.62" height="4.23" fill="#394ef3"/>
<rect x="123.54" y="317.09" width="5.62" height="4.23" fill="#403feb"/>
<rect x="123.54" y="312.91" width="5.62" height="4.23" fill="#4731e2"/>
<rect x="123.54" y="308.73" width="5.62" height="4.23" fill="#4c2adc"/>
<rect x="129.11" y="346.37" width="5.62" height="4.23" fill="#4c29db"/>
<rect x="129.11" y="342.19" width="5.62" height="4.23" fill="#4731e2"/>
<rect x="129.11" y="338.01" width="5.62" height="4.23" fill="#3c48f0"/>
<rect x="129.11" y="333.82" width="5.62" height="4.23" fill="#2c6bf5"/>
<rect x="129.11" y="329.64" width="5.62" height="4.23" fill="#258af2"/>
<rect x="129.11" y="325.46" width="5.62" height="4.23" fill="#2397ef"/>
<rect x="129.11" y="321.28" width="5.62" height="4.23" fill="#258af2"/>
<rect x="129.11" y="317.09" width="5.62" height="4.23" fill="#2c6bf5"/>
<rect x="129.11" y="312.91" width="5.62" height="4.23" fill="#3c48f0"/>
<rect x="129.11" y="308.73" width="5.62" height="4.23" fill="#4731e2"/>
<rect x="129.11" y="304.55" width="5.62" height="4.23" fill="#4c29db"/>
<rect x="134.68" y="346.37" width="5.62" height="4.23" fill="#4a2cde"/>
<rect x="134.68" y="342.19" width="5.62" height="4.23" fill="#403feb"/>
<rect x="134.68" y="338.01" width="5.62" height="4.23" fill="#2c6bf5"/>
<rect x="134.68" y="333.82" width="5.62" height="4.23" fill="#21a1e7"/>
<rect x="134.68" y="329.64" width="5.62" height="4.23" fill="#1ac5a8"/>
<rect x="134.68" y="325.46" width="5.62" height="4.23" fill="#3ed07e"/>
<rect x="134.68" y="321.28" width="5.62" height="4.23" fill="#1ac5a8"/>
<rect x="134.68" y="317.09" width="5.62" height="4.23" fill="#21a1e7"/>
<rect x="134.68" y="312.91" width="5.62" height="4.23" fill="#2c6bf5"/>
<rect x="134.68" y="308.73" width="5.62" height="4.23" fill="#403feb"/>
<rect x="134.68" y="304.55" width="5.62" height="4.23" fill="#4a2cde"/>
<rect x="140.25" y="346.37" width="5.62" height="4.23" fill="#482fe1"/>
<rect x="140.25" y="342.19" width="5.62" height="4.23" fill="#394ef3"/>
<rect x="140.25" y="338.01" width="5.62" height="4.23" fill="#258af2"/>
<rect x="140.25" y="333.82" width="5.62" height="4.23" fill="#1ac5a8"/>
<rect x="140.25" y="329.64" width="5.62" height="4.23" fill="#efcf1d"/>
<rect x="140.25" y="325.46" width="5.62" height="4.23" fill="#ffcd12"/>
<rect x="140.25" y="321.28" width="5.62" height="4.23" fill="#efcf1d"/>
<rect x="140.25" y="317.09" width="5.62" height="4.23" fill="#1ac5a8"/>
<rect x="140.25" y="312.91" width="5.62" height="4.23" fill="#258af2"/>
<rect x="140.25" y="308.73" width="5.62" height="4.23" fill="#394ef3"/>
<rect x="140.25" y="304.55" width="5.62" height="4.23" fill="#482fe1"/>
<rect x="145.82" y="346.37" width="5.62" height="4.23" fill="#4731e2"/>
<rect x="145.82" y="342.19" width="5.62" height="4.23" fill="#3654f5"/>
<rect x="145.82" y="338.01" width="5.62" height="4.23" fill="#2397ef"/>
<rect x="145.82" y="333.82" width="5.62" height="4.23" fill="#3ed07e"/>
<rect x="145.82" y="329.64" width="5.62" height="4.23" fill="#ffcd12"/>
<rect x="145.82" y="325.46" width="5.62" height="4.23" fill="#fff000"/>
<rect x="145.82" y="321.28" width="5.62" height="4.23" fill="#ffcd12"/>
<rect x="145.82" y="317.09" width="5.62" height="4.23" fill="#3ed07e"/>
<rect x="145.82" y="312.91" width="5.62" height="4.23" fill="#2397ef"/>
<rect x="145.82" y="308.73" width="5.62" height="4.23" fill="#3654f5"/>
<rect x="145.82" y="304.55" width="5.62" height="4.23" fill="#4731e2"/>
<rect x="151.38" y="346.37" width="5.62" height="4.23" fill="#482fe1"/>
<rect x="151.38" y="342.19" width="5.62" height="4.23" fill="#394ef3"/>
<rect x="151.38" y="338.01" width="5.62" height="4.23" fill="#258af2"/>
<rect x="151.38" y="333.82" width="5.62" height="4.23" fill="#1ac5a8"/>
<rect x="151.38" y="329.64" width="5.62" height="4.23" fill="#efcf1d"/>
<rect x="151.38" y="325.46" width="5.62" height="4.23" fill="#ffcd12"/>
<rect x="151.38" y="321.28" width="5.62" height="4.23" fill="#efcf1d"/>
<rect x="151.38" y="317.09" width="5.62" height="4.23" fill="#1ac5a8"/>
<rect x="151.38" y="312.91" width="5.62" height="4.23" fill="#258af2"/>
<rect x="151.38" y="308.73" width="5.62" height="4.23" fill="#394ef3"/>
<rect x="151.38" y="304.55" width="5.62" height="4.23" fill="#482fe1"/>
<rect x="156.95" y="346.37" width="5.62" height="4.23" fill="#4a2cde"/>
<rect x="156.95" y="342.19" width="5.62" height="4.23" fill="#403feb"/>
<rect x="156.95" y="338.01" width="5.62" height="4.23" fill="#2c6bf5"/>
<rect x="156.95" y="333.82" width="5.62" height="4.23" fill="#21a1e7"/>
<rect x="156.95" y="329.64" width="5.62" height="4.23" fill="#1ac5a8"/>
<rect x="156.95" y="325.46" width="5.62" height="4.23" fill="#3ed07e"/>
<rect x="156.95" y="321.28" width="5.62" height="4.23" fill="#1ac5a8"/>
<rect x="156.95" y="317.09" width="5.62" height="4.23" fill="#21a1e7"/>
<rect x="156.95" y="312.91" width="5.62" height="4.23" fill="#2c6bf5"/>
<rect x="156.95" y="308.73" width="5.62" height="4.23" fill="#403feb"/>
<rect x="156.95" y="304.55" width="5.62" height="4.23" fill="#4a2cde"/>
<rect x="162.52" y="346.37" width="5.62" height="4.23" fill="#4c29db"/>
<rect x="162.52" y="342.19" width="5.62" height="4.23" fill="#4731e2"/>
<rect x="162.52" y="338.01" width="5.62" height="4.23" fill="#3c48f0"/>
<rect x="162.52" y="333.82" width="5.62" height="4.23" fill="#2c6bf5"/>
<rect x="162.52" y="329.64" width="5.62" height="4.23" fill="#258af2"/>
<rect x="162.52" y="325.46" width="5.62" height="4.23" fill="#2397ef"/>
<rect x="162.52" y="321.28" width="5.62" height="4.23" fill="#258af2"/>
<rect x="162.52" y="317.09" width="5.62" height="4.23" fill="#2c6bf5"/>
<rect x="162.52" y="312.91" width="5.62" height="4.23" fill="#3c48f0"/>
<rect x="162.52" y="308.73" width="5.62" height="4.23" fill="#4731e2"/>
<rect x="162.52" y="304.55" width="5.62" height="4.23" fill="#4c29db"/>
<rect x="168.09" y="342.19" width="5.62" height="4.23" fill="#4c2adc"/>
<rect x="168.09" y="338.01" width="5.62" height="4.23" fill="#4731e2"/>
<rect x="168.09" y="333.82" width="5.62" height="4.23" fill="#403feb"/>
<rect x="168.09" y="329.64" width="5.62" height="4.23" fill="#394ef3"/>
<rect x="168.09" y="325.46" width="5.62" height="4.23" fill="#3654f5"/>
<rect x="168.09" y="321.28" width="5.62" height="4.23" fill="#394ef3"/>
<rect x="168.09" y="317.09" width="5.62" height="4.23" fill="#403feb"/>
<rect x="168.09" y="312.91" width="5.62" height="4.23" fill="#4731e2"/>
<rect x="168.09" y="308.73" width="5.62" height="4.23" fill="#4c2adc"/>
<rect x="173.66" y="338.01" width="5.62" height="4.23" fill="#4c29db"/>
<rect x="173.66" y="333.82" width="5.62" height="4.23" fill="#4a2cde"/>
<rect x="173.66" y="329.64" width="5.62" height="4.23" fill="#482fe1"/>
<rect x="173.66" y="325.46" width="5.62" height="4.23" fill="#4731e2"/>
<rect x="173.66" y="321.28" width="5.62" height="4.23" fill="#482fe1"/>
<rect x="173.66" y="317.09" width="5.62" height="4.23" fill="#4a2cde"/>
<rect x="173.66" y="312.91" width="5.62" height="4.23" fill="#4c29db"/>
<path d="M40 246V409.1M45.57 246V409.1M51.14 246V409.1M56.71 246V409.1M62.28 246V409.1M67.85 246V409.1M73.42 246V409.1M78.98 246V409.1M84.55 246V409.1M90.12 246V409.1M95.69 246V409.1M101.26 246V409.1M106.83 246V409.1M112.4 246V409.1M117.97 246V409.1M123.54 246V409.1M129.11 246V409.1M134.68 246V409.1M140.25 246V409.1M145.82 246V409.1M151.38 246V409.1M156.95 246V409.1M162.52 246V409.1M168.09 246V409.1M173.66 246V409.1M179.23 246V409.1M184.8 246V409.1M190.37 246V409.1M195.94 246V409.1M201.51 246V409.1M207.08 246V409.1M212.65 246V409.1M218.22 246V409.1M223.78 246V409.1M229.35 246V409.1M234.92 246V409.1M240.49 246V409.1M246.06 246V409.1M251.63 246V409.1M257.2 246V409.1" stroke="#000" stroke-opacity="0.018" stroke-width="3.5" fill="none"/>
<path d="M40 246V409.1M45.57 246V409.1M51.14 246V409.1M56.71 246V409.1M62.28 246V409.1M67.85 246V409.1M73.42 246V409.1M78.98 246V409.1M84.55 246V409.1M90.12 246V409.1M95.69 246V409.1M101.26 246V409.1M106.83 246V409.1M112.4 246V409.1M117.97 246V409.1M123.54 246V409.1M129.11 246V409.1M134.68 246V409.1M140.25 246V409.1M145.82 246V409.1M151.38 246V409.1M156.95 246V409.1M162.52 246V409.1M168.09 246V409.1M173.66 246V409.1M179.23 246V409.1M184.8 246V409.1M190.37 246V409.1M195.94 246V409.1M201.51 246V409.1M207.08 246V409.1M212.65 246V409.1M218.22 246V409.1M223.78 246V409.1M229.35 246V409.1M234.92 246V409.1M240.49 246V409.1M246.06 246V409.1M251.63 246V409.1M257.2 246V409.1" stroke="#000" stroke-opacity="0.118" stroke-width="2.5" fill="none"/>
<path d="M40 246V409.1M45.57 246V409.1M51.14 246V409.1M56.71 246V409.1M62.28 246V409.1M67.85 246V409.1M73.42 246V409.1M78.98 246V409.1M84.55 246V409.1M90.12 246V409.1M95.69 246V409.1M101.26 246V409.1M106.83 246V409.1M112.4 246V409.1M117.97 246V409.1M123.54 246V409.1M129.11 246V409.1M134.68 246V409.1M140.25 246V409.1M145.82 246V409.1M151.38 246V409.1M156.95 246V409.1M162.52 246V409.1M168.09 246V409.1M173.66 246V409.1M179.23 246V409.1M184.8 246V409.1M190.37 246V409.1M195.94 246V409.1M201.51 246V409.1M207.08 246V409.1M212.65 246V409.1M218.22 246V409.1M223.78 246V409.1M229.35 246V409.1M234.92 246V409.1M240.49 246V409.1M246.06 246V409.1M251.63 246V409.1M257.2 246V409.1" stroke="#000" stroke-opacity="0.344" stroke-width="1.5" fill="none"/>
<path d="M40 246V409.1M45.57 246V409.1M51.14 246V409.1M56.71 246V409.1M62.28 246V409.1M67.85 246V409.1M73.42 246V409.1M78.98 246V409.1M84.55 246V409.1M90.12 246V409.1M95.69 246V409.1M101.26 246V409.1M106.83 246V409.1M112.4 246V409.1M117.97 246V409.1M123.54 246V409.1M129.11 246V409.1M134.68 246V409.1M140.25 246V409.1M145.82 246V409.1M151.38 246V409.1M156.95 246V409.1M162.52 246V409.1M168.09 246V409.1M173.66 246V409.1M179.23 246V409.1M184.8 246V409.1M190.37 246V409.1M195.94 246V409.1M201.51 246V409.1M207.08 246V409.1M212.65 246V409.1M218.22 246V409.1M223.78 246V409.1M229.35 246V409.1M234.92 246V409.1M240.49 246V409.1M246.06 246V409.1M251.63 246V409.1M257.2 246V409.1" stroke="#000" stroke-opacity="0.353" stroke-width="0.6" fill="none"/>
<path d="M40 246H257.2M40 250.18H257.2M40 254.36H257.2M40 258.55H257.2M40 262.73H257.2M40 266.91H257.2M40 271.09H257.2M40 275.27H257.2M40 279.46H257.2M40 283.64H257.2M40 287.82H257.2M40 292H257.2M40 296.18H257.2M40 300.37H257.2M40 304.55H257.2M40 308.73H257.2M40 312.91H257.2M40 317.09H257.2M40 321.28H257.2M40 325.46H257.2M40 329.64H257.2M40 333.82H257.2M40 338.01H257.2M40 342.19H257.2M40 346.37H257.2M40 350.55H257.2M40 354.73H257.2M40 358.92H257.2M40 363.1H257.2M40 367.28H257.2M40 371.46H257.2M40 375.64H257.2M40 379.83H257.2M40 384.01H257.2M40 388.19H257.2M40 392.37H257.2M40 396.55H257.2M40 400.74H257.2M40 404.92H257.2M40 409.1H257.2" stroke="#000" stroke-opacity="0.041" stroke-width="3.5" fill="none"/>
<path d="M40 246H257.2M40 250.18H257.2M40 254.36H257.2M40 258.55H257.2M40 262.73H257.2M40 266.91H257.2M40 271.09H257.2M40 275.27H257.2M40 279.46H257.2M40 283.64H257.2M40 287.82H257.2M40 292H257.2M40 296.18H257.2M40 300.37H257.2M40 304.55H257.2M40 308.73H257.2M40 312.91H257.2M40 317.09H257.2M40 321.28H257.2M40 325.46H257.2M40 329.64H257.2M40 333.82H257.2M40 338.01H257.2M40 342.19H257.2M40 346.37H257.2M40 350.55H257.2M40 354.73H257.2M40 358.92H257.2M40 363.1H257.2M40 367.28H257.2M40 371.46H257.2M40 375.64H257.2M40 379.83H257.2M40 384.01H257.2M40 388.19H257.2M40 392.37H257.2M40 396.55H257.2M40 400.74H257.2M40 404.92H257.2M40 409.1H257.2" stroke="#000" stroke-opacity="0.196" stroke-width="2.5" fill="none"/>
<path d="M40 246H257.2M40 250.18H257.2M40 254.36H257.2M40 258.55H257.2M40 262.73H257.2M40 266.91H257.2M40 271.09H257.2M40 275.27H257.2M40 279.46H257.2M40 283.64H257.2M40 287.82H257.2M40 292H257.2M40 296.18H257.2M40 300.37H257.2M40 304.55H257.2M40 308.73H257.2M40 312.91H257.2M40 317.09H257.2M40 321.28H257.2M40 325.46H257.2M40 329.64H257.2M40 333.82H257.2M40 338.01H257.2M40 342.19H257.2M40 346.37H257.2M40 350.55H257.2M40 354.73H257.2M40 358.92H257.2M40 363.1H257.2M40 367.28H257.2M40 371.46H257.2M40 375.64H257.2M40 379.83H257.2M40 384.01H257.2M40 388.19H257.2M40 392.37H257.2M40 396.55H257.2M40 400.74H257.2M40 404.92H257.2M40 409.1H257.2" stroke="#000" stroke-opacity="0.469" stroke-width="1.5" fill="none"/>
<path d="M40 246H257.2M40 250.18H257.2M40 254.36H257.2M40 258.55H257.2M40 262.73H257.2M40 266.91H257.2M40 271.09H257.2M40 275.27H257.2M40 279.46H257.2M40 283.64H257.2M40 287.82H257.2M40 292H257.2M40 296.18H257.2M40 300.37H257.2M40 304.55H257.2M40 308.73H257.2M40 312.91H257.2M40 317.09H257.2M40 321.28H257.2M40 325.46H257.2M40 329.64H257.2M40 333.82H257.2M40 338.01H257.2M40 342.19H257.2M40 346.37H257.2M40 350.55H257.2M40 354.73H257.2M40 358.92H257.2M40 363.1H257.2M40 367.28H257.2M40 371.46H257.2M40 375.64H257.2M40 379.83H257.2M40 384.01H257.2M40 388.19H257.2M40 392.37H257.2M40 396.55H257.2M40 400.74H257.2M40 404.92H257.2M40 409.1H257.2" stroke="#000" stroke-opacity="0.493" stroke-width="0.6" fill="none"/>
<rect x="40.05" y="246.2" width="217.3" height="163.1" fill="none" stroke="#000" stroke-opacity="0.75" stroke-width="1.3"/>
<ellipse cx="148.6" cy="327.55" rx="25.62" ry="19.24" fill="url(#glowH)" opacity="0.45"/>
</g>
<clipPath id="cpd"><rect x="320.3" y="249" width="215.6" height="160.7"/></clipPath>
<g clip-path="url(#cpd)">
<rect x="321" y="249.5" width="214.1" height="159.4" fill="#4f26d7"/>
<rect x="337.47" y="335.33" width="5.54" height="4.14" fill="#4c2adb"/>
<rect x="337.47" y="331.24" width="5.54" height="4.14" fill="#4c2bdc"/>
<rect x="337.47" y="327.16" width="5.54" height="4.14" fill="#4c2bdc"/>
<rect x="337.47" y="323.07" width="5.54" height="4.14" fill="#4c2adb"/>
<rect x="342.96" y="343.51" width="5.54" height="4.14" fill="#4c2adb"/>
<rect x="342.96" y="339.42" width="5.54" height="4.14" fill="#492edf"/>
<rect x="342.96" y="335.33" width="5.54" height="4.14" fill="#4633e4"/>
<rect x="342.96" y="331.24" width="5.54" height="4.14" fill="#4339e7"/>
<rect x="342.96" y="327.16" width="5.54" height="4.14" fill="#4339e7"/>
<rect x="342.96" y="323.07" width="5.54" height="4.14" fill="#4633e4"/>
<rect x="342.96" y="318.98" width="5.54" height="4.14" fill="#492edf"/>
<rect x="342.96" y="314.89" width="5.54" height="4.14" fill="#4c2adb"/>
<rect x="348.45" y="347.59" width="5.54" height="4.14" fill="#4c2adb"/>
<rect x="348.45" y="343.51" width="5.54" height="4.14" fill="#4830e1"/>
<rect x="348.45" y="339.42" width="5.54" height="4.14" fill="#3f40eb"/>
<rect x="348.45" y="335.33" width="5.54" height="4.14" fill="#3556f5"/>
<rect x="348.45" y="331.24" width="5.54" height="4.14" fill="#2f64f5"/>
<rect x="348.45" y="327.16" width="5.54" height="4.14" fill="#2f64f5"/>
<rect x="348.45" y="323.07" width="5.54" height="4.14" fill="#3556f5"/>
<rect x="348.45" y="318.98" width="5.54" height="4.14" fill="#3f40eb"/>
<rect x="348.45" y="314.89" width="5.54" height="4.14" fill="#4830e1"/>
<rect x="348.45" y="310.81" width="5.54" height="4.14" fill="#4c2adb"/>
<rect x="353.94" y="347.59" width="5.54" height="4.14" fill="#492edf"/>
<rect x="353.94" y="343.51" width="5.54" height="4.14" fill="#3f40eb"/>
<rect x="353.94" y="339.42" width="5.54" height="4.14" fill="#2f64f5"/>
<rect x="353.94" y="335.33" width="5.54" height="4.14" fill="#248ef1"/>
<rect x="353.94" y="331.24" width="5.54" height="4.14" fill="#21a4e4"/>
<rect x="353.94" y="327.16" width="5.54" height="4.14" fill="#21a4e4"/>
<rect x="353.94" y="323.07" width="5.54" height="4.14" fill="#248ef1"/>
<rect x="353.94" y="318.98" width="5.54" height="4.14" fill="#2f64f5"/>
<rect x="353.94" y="314.89" width="5.54" height="4.14" fill="#3f40eb"/>
<rect x="353.94" y="310.81" width="5.54" height="4.14" fill="#492edf"/>
<rect x="359.43" y="351.68" width="5.54" height="4.14" fill="#4c2adb"/>
<rect x="359.43" y="347.59" width="5.54" height="4.14" fill="#4633e4"/>
<rect x="359.43" y="343.51" width="5.54" height="4.14" fill="#3556f5"/>
<rect x="359.43" y="339.42" width="5.54" height="4.14" fill="#248ef1"/>
<rect x="359.43" y="335.33" width="5.54" height="4.14" fill="#1cbcc1"/>
<rect x="359.43" y="331.24" width="5.54" height="4.14" fill="#4cd470"/>
<rect x="359.43" y="327.16" width="5.54" height="4.14" fill="#4cd470"/>
<rect x="359.43" y="323.07" width="5.54" height="4.14" fill="#1cbcc1"/>
<rect x="359.43" y="318.98" width="5.54" height="4.14" fill="#248ef1"/>
<rect x="359.43" y="314.89" width="5.54" height="4.14" fill="#3556f5"/>
<rect x="359.43" y="310.81" width="5.54" height="4.14" fill="#4633e4"/>
<rect x="359.43" y="306.72" width="5.54" height="4.14" fill="#4c2adb"/>
<rect x="364.92" y="351.68" width="5.54" height="4.14" fill="#4c2bdc"/>
<rect x="364.92" y="347.59" width="5.54" height="4.14" fill="#4339e7"/>
<rect x="364.92" y="343.51" width="5.54" height="4.14" fill="#2f64f5"/>
<rect x="364.92" y="339.42" width="5.54" height="4.14" fill="#21a4e4"/>
<rect x="364.92" y="335.33" width="5.54" height="4.14" fill="#4cd470"/>
<rect x="364.92" y="331.24" width="5.54" height="4.14" fill="#facc18"/>
<rect x="364.92" y="327.16" width="5.54" height="4.14" fill="#facc18"/>
<rect x="364.92" y="323.07" width="5.54" height="4.14" fill="#4cd470"/>
<rect x="364.92" y="318.98" width="5.54" height="4.14" fill="#21a4e4"/>
<rect x="364.92" y="314.89" width="5.54" height="4.14" fill="#2f64f5"/>
<rect x="364.92" y="310.81" width="5.54" height="4.14" fill="#4339e7"/>
<rect x="364.92" y="306.72" width="5.54" height="4.14" fill="#4c2bdc"/>
<rect x="370.41" y="351.68" width="5.54" height="4.14" fill="#4c2bdc"/>
<rect x="370.41" y="347.59" width="5.54" height="4.14" fill="#4339e7"/>
<rect x="370.41" y="343.51" width="5.54" height="4.14" fill="#2f64f5"/>
<rect x="370.41" y="339.42" width="5.54" height="4.14" fill="#21a4e4"/>
<rect x="370.41" y="335.33" width="5.54" height="4.14" fill="#4cd470"/>
<rect x="370.41" y="331.24" width="5.54" height="4.14" fill="#facc18"/>
<rect x="370.41" y="327.16" width="5.54" height="4.14" fill="#facc18"/>
<rect x="370.41" y="323.07" width="5.54" height="4.14" fill="#4cd470"/>
<rect x="370.41" y="318.98" width="5.54" height="4.14" fill="#21a4e4"/>
<rect x="370.41" y="314.89" width="5.54" height="4.14" fill="#2f64f5"/>
<rect x="370.41" y="310.81" width="5.54" height="4.14" fill="#4339e7"/>
<rect x="370.41" y="306.72" width="5.54" height="4.14" fill="#4c2bdc"/>
<rect x="375.9" y="351.68" width="5.54" height="4.14" fill="#4c2adb"/>
<rect x="375.9" y="347.59" width="5.54" height="4.14" fill="#4633e4"/>
<rect x="375.9" y="343.51" width="5.54" height="4.14" fill="#3556f5"/>
<rect x="375.9" y="339.42" width="5.54" height="4.14" fill="#248ef1"/>
<rect x="375.9" y="335.33" width="5.54" height="4.14" fill="#1cbcc1"/>
<rect x="375.9" y="331.24" width="5.54" height="4.14" fill="#4cd470"/>
<rect x="375.9" y="327.16" width="5.54" height="4.14" fill="#4cd470"/>
<rect x="375.9" y="323.07" width="5.54" height="4.14" fill="#1cbcc1"/>
<rect x="375.9" y="318.98" width="5.54" height="4.14" fill="#248ef1"/>
<rect x="375.9" y="314.89" width="5.54" height="4.14" fill="#3556f5"/>
<rect x="375.9" y="310.81" width="5.54" height="4.14" fill="#4633e4"/>
<rect x="375.9" y="306.72" width="5.54" height="4.14" fill="#4c2adb"/>
<rect x="381.39" y="347.59" width="5.54" height="4.14" fill="#492edf"/>
<rect x="381.39" y="343.51" width="5.54" height="4.14" fill="#3f40eb"/>
<rect x="381.39" y="339.42" width="5.54" height="4.14" fill="#2f64f5"/>
<rect x="381.39" y="335.33" width="5.54" height="4.14" fill="#248ef1"/>
<rect x="381.39" y="331.24" width="5.54" height="4.14" fill="#21a4e4"/>
<rect x="381.39" y="327.16" width="5.54" height="4.14" fill="#21a4e4"/>
<rect x="381.39" y="323.07" width="5.54" height="4.14" fill="#248ef1"/>
<rect x="381.39" y="318.98" width="5.54" height="4.14" fill="#2f64f5"/>
<rect x="381.39" y="314.89" width="5.54" height="4.14" fill="#3f40eb"/>
<rect x="381.39" y="310.81" width="5.54" height="4.14" fill="#492edf"/>
<rect x="386.88" y="347.59" width="5.54" height="4.14" fill="#4c2adb"/>
<rect x="386.88" y="343.51" width="5.54" height="4.14" fill="#4830e1"/>
<rect x="386.88" y="339.42" width="5.54" height="4.14" fill="#3f40eb"/>
<rect x="386.88" y="335.33" width="5.54" height="4.14" fill="#3556f5"/>
<rect x="386.88" y="331.24" width="5.54" height="4.14" fill="#2f64f5"/>
<rect x="386.88" y="327.16" width="5.54" height="4.14" fill="#2f64f5"/>
<rect x="386.88" y="323.07" width="5.54" height="4.14" fill="#3556f5"/>
<rect x="386.88" y="318.98" width="5.54" height="4.14" fill="#3f40eb"/>
<rect x="386.88" y="314.89" width="5.54" height="4.14" fill="#4830e1"/>
<rect x="386.88" y="310.81" width="5.54" height="4.14" fill="#4c2adb"/>
<rect x="392.37" y="343.51" width="5.54" height="4.14" fill="#4c2adb"/>
<rect x="392.37" y="339.42" width="5.54" height="4.14" fill="#492edf"/>
<rect x="392.37" y="335.33" width="5.54" height="4.14" fill="#4633e4"/>
<rect x="392.37" y="331.24" width="5.54" height="4.14" fill="#4339e7"/>
<rect x="392.37" y="327.16" width="5.54" height="4.14" fill="#4339e7"/>
<rect x="392.37" y="323.07" width="5.54" height="4.14" fill="#4633e4"/>
<rect x="392.37" y="318.98" width="5.54" height="4.14" fill="#492edf"/>
<rect x="392.37" y="314.89" width="5.54" height="4.14" fill="#4c2adb"/>
<rect x="397.86" y="335.33" width="5.54" height="4.14" fill="#4c2adb"/>
<rect x="397.86" y="331.24" width="5.54" height="4.14" fill="#4c2bdc"/>
<rect x="397.86" y="327.16" width="5.54" height="4.14" fill="#4c2bdc"/>
<rect x="397.86" y="323.07" width="5.54" height="4.14" fill="#4c2adb"/>
<rect x="447.26" y="335.33" width="5.54" height="4.14" fill="#4c2adb"/>
<rect x="447.26" y="331.24" width="5.54" height="4.14" fill="#4b2bdd"/>
<rect x="447.26" y="327.16" width="5.54" height="4.14" fill="#4b2bdd"/>
<rect x="447.26" y="323.07" width="5.54" height="4.14" fill="#4c2adb"/>
<rect x="452.75" y="343.51" width="5.54" height="4.14" fill="#4c2adb"/>
<rect x="452.75" y="339.42" width="5.54" height="4.14" fill="#492ee0"/>
<rect x="452.75" y="335.33" width="5.54" height="4.14" fill="#4535e6"/>
<rect x="452.75" y="331.24" width="5.54" height="4.14" fill="#413ce9"/>
<rect x="452.75" y="327.16" width="5.54" height="4.14" fill="#413ce9"/>
<rect x="452.75" y="323.07" width="5.54" height="4.14" fill="#4535e6"/>
<rect x="452.75" y="318.98" width="5.54" height="4.14" fill="#492ee0"/>
<rect x="452.75" y="314.89" width="5.54" height="4.14" fill="#4c2adb"/>
<rect x="458.24" y="347.59" width="5.54" height="4.14" fill="#4c2adb"/>
<rect x="458.24" y="343.51" width="5.54" height="4.14" fill="#4731e3"/>
<rect x="458.24" y="339.42" width="5.54" height="4.14" fill="#3e44ee"/>
<rect x="458.24" y="335.33" width="5.54" height="4.14" fill="#335cf5"/>
<rect x="458.24" y="331.24" width="5.54" height="4.14" fill="#2b6cf5"/>
<rect x="458.24" y="327.16" width="5.54" height="4.14" fill="#2b6cf5"/>
<rect x="458.24" y="323.07" width="5.54" height="4.14" fill="#335cf5"/>
<rect x="458.24" y="318.98" width="5.54" height="4.14" fill="#3e44ee"/>
<rect x="458.24" y="314.89" width="5.54" height="4.14" fill="#4731e3"/>
<rect x="458.24" y="310.81" width="5.54" height="4.14" fill="#4c2adb"/>
<rect x="463.73" y="347.59" width="5.54" height="4.14" fill="#492ee0"/>
<rect x="463.73" y="343.51" width="5.54" height="4.14" fill="#3e44ee"/>
<rect x="463.73" y="339.42" width="5.54" height="4.14" fill="#2b6cf5"/>
<rect x="463.73" y="335.33" width="5.54" height="4.14" fill="#2399ee"/>
<rect x="463.73" y="331.24" width="5.54" height="4.14" fill="#1faedc"/>
<rect x="463.73" y="327.16" width="5.54" height="4.14" fill="#1faedc"/>
<rect x="463.73" y="323.07" width="5.54" height="4.14" fill="#2399ee"/>
<rect x="463.73" y="318.98" width="5.54" height="4.14" fill="#2b6cf5"/>
<rect x="463.73" y="314.89" width="5.54" height="4.14" fill="#3e44ee"/>
<rect x="463.73" y="310.81" width="5.54" height="4.14" fill="#492ee0"/>
<rect x="469.22" y="351.68" width="5.54" height="4.14" fill="#4c2adb"/>
<rect x="469.22" y="347.59" width="5.54" height="4.14" fill="#4535e6"/>
<rect x="469.22" y="343.51" width="5.54" height="4.14" fill="#335cf5"/>
<rect x="469.22" y="339.42" width="5.54" height="4.14" fill="#2399ee"/>
<rect x="469.22" y="335.33" width="5.54" height="4.14" fill="#19c7a2"/>
<rect x="469.22" y="331.24" width="5.54" height="4.14" fill="#a5d93d"/>
<rect x="469.22" y="327.16" width="5.54" height="4.14" fill="#a5d93d"/>
<rect x="469.22" y="323.07" width="5.54" height="4.14" fill="#19c7a2"/>
<rect x="469.22" y="318.98" width="5.54" height="4.14" fill="#2399ee"/>
<rect x="469.22" y="314.89" width="5.54" height="4.14" fill="#335cf5"/>
<rect x="469.22" y="310.81" width="5.54" height="4.14" fill="#4535e6"/>
<rect x="469.22" y="306.72" width="5.54" height="4.14" fill="#4c2adb"/>
<rect x="474.71" y="351.68" width="5.54" height="4.14" fill="#4b2bdd"/>
<rect x="474.71" y="347.59" width="5.54" height="4.14" fill="#413ce9"/>
<rect x="474.71" y="343.51" width="5.54" height="4.14" fill="#2b6cf5"/>
<rect x="474.71" y="339.42" width="5.54" height="4.14" fill="#1faedc"/>
<rect x="474.71" y="335.33" width="5.54" height="4.14" fill="#a5d93d"/>
<rect x="474.71" y="331.24" width="5.54" height="4.14" fill="#ffd111"/>
<rect x="474.71" y="327.16" width="5.54" height="4.14" fill="#ffd111"/>
<rect x="474.71" y="323.07" width="5.54" height="4.14" fill="#a5d93d"/>
<rect x="474.71" y="318.98" width="5.54" height="4.14" fill="#1faedc"/>
<rect x="474.71" y="314.89" width="5.54" height="4.14" fill="#2b6cf5"/>
<rect x="474.71" y="310.81" width="5.54" height="4.14" fill="#413ce9"/>
<rect x="474.71" y="306.72" width="5.54" height="4.14" fill="#4b2bdd"/>
<rect x="480.2" y="351.68" width="5.54" height="4.14" fill="#4b2bdd"/>
<rect x="480.2" y="347.59" width="5.54" height="4.14" fill="#413ce9"/>
<rect x="480.2" y="343.51" width="5.54" height="4.14" fill="#2b6cf5"/>
<rect x="480.2" y="339.42" width="5.54" height="4.14" fill="#1faedc"/>
<rect x="480.2" y="335.33" width="5.54" height="4.14" fill="#a5d93d"/>
<rect x="480.2" y="331.24" width="5.54" height="4.14" fill="#ffd111"/>
<rect x="480.2" y="327.16" width="5.54" height="4.14" fill="#ffd111"/>
<rect x="480.2" y="323.07" width="5.54" height="4.14" fill="#a5d93d"/>
<rect x="480.2" y="318.98" width="5.54" height="4.14" fill="#1faedc"/>
<rect x="480.2" y="314.89" width="5.54" height="4.14" fill="#2b6cf5"/>
<rect x="480.2" y="310.81" width="5.54" height="4.14" fill="#413ce9"/>
<rect x="480.2" y="306.72" width="5.54" height="4.14" fill="#4b2bdd"/>
<rect x="485.69" y="351.68" width="5.54" height="4.14" fill="#4c2adb"/>
<rect x="485.69" y="347.59" width="5.54" height="4.14" fill="#4535e6"/>
<rect x="485.69" y="343.51" width="5.54" height="4.14" fill="#335cf5"/>
<rect x="485.69" y="339.42" width="5.54" height="4.14" fill="#2399ee"/>
<rect x="485.69" y="335.33" width="5.54" height="4.14" fill="#19c7a2"/>
<rect x="485.69" y="331.24" width="5.54" height="4.14" fill="#a5d93d"/>
<rect x="485.69" y="327.16" width="5.54" height="4.14" fill="#a5d93d"/>
<rect x="485.69" y="323.07" width="5.54" height="4.14" fill="#19c7a2"/>
<rect x="485.69" y="318.98" width="5.54" height="4.14" fill="#2399ee"/>
<rect x="485.69" y="314.89" width="5.54" height="4.14" fill="#335cf5"/>
<rect x="485.69" y="310.81" width="5.54" height="4.14" fill="#4535e6"/>
<rect x="485.69" y="306.72" width="5.54" height="4.14" fill="#4c2adb"/>
<rect x="491.18" y="347.59" width="5.54" height="4.14" fill="#492ee0"/>
<rect x="491.18" y="343.51" width="5.54" height="4.14" fill="#3e44ee"/>
<rect x="491.18" y="339.42" width="5.54" height="4.14" fill="#2b6cf5"/>
<rect x="491.18" y="335.33" width="5.54" height="4.14" fill="#2399ee"/>
<rect x="491.18" y="331.24" width="5.54" height="4.14" fill="#1faedc"/>
<rect x="491.18" y="327.16" width="5.54" height="4.14" fill="#1faedc"/>
<rect x="491.18" y="323.07" width="5.54" height="4.14" fill="#2399ee"/>
<rect x="491.18" y="318.98" width="5.54" height="4.14" fill="#2b6cf5"/>
<rect x="491.18" y="314.89" width="5.54" height="4.14" fill="#3e44ee"/>
<rect x="491.18" y="310.81" width="5.54" height="4.14" fill="#492ee0"/>
<rect x="496.67" y="347.59" width="5.54" height="4.14" fill="#4c2adb"/>
<rect x="496.67" y="343.51" width="5.54" height="4.14" fill="#4731e3"/>
<rect x="496.67" y="339.42" width="5.54" height="4.14" fill="#3e44ee"/>
<rect x="496.67" y="335.33" width="5.54" height="4.14" fill="#335cf5"/>
<rect x="496.67" y="331.24" width="5.54" height="4.14" fill="#2b6cf5"/>
<rect x="496.67" y="327.16" width="5.54" height="4.14" fill="#2b6cf5"/>
<rect x="496.67" y="323.07" width="5.54" height="4.14" fill="#335cf5"/>
<rect x="496.67" y="318.98" width="5.54" height="4.14" fill="#3e44ee"/>
<rect x="496.67" y="314.89" width="5.54" height="4.14" fill="#4731e3"/>
<rect x="496.67" y="310.81" width="5.54" height="4.14" fill="#4c2adb"/>
<rect x="502.16" y="343.51" width="5.54" height="4.14" fill="#4c2adb"/>
<rect x="502.16" y="339.42" width="5.54" height="4.14" fill="#492ee0"/>
<rect x="502.16" y="335.33" width="5.54" height="4.14" fill="#4535e6"/>
<rect x="502.16" y="331.24" width="5.54" height="4.14" fill="#413ce9"/>
<rect x="502.16" y="327.16" width="5.54" height="4.14" fill="#413ce9"/>
<rect x="502.16" y="323.07" width="5.54" height="4.14" fill="#4535e6"/>
<rect x="502.16" y="318.98" width="5.54" height="4.14" fill="#492ee0"/>
<rect x="502.16" y="314.89" width="5.54" height="4.14" fill="#4c2adb"/>
<rect x="507.65" y="335.33" width="5.54" height="4.14" fill="#4c2adb"/>
<rect x="507.65" y="331.24" width="5.54" height="4.14" fill="#4b2bdd"/>
<rect x="507.65" y="327.16" width="5.54" height="4.14" fill="#4b2bdd"/>
<rect x="507.65" y="323.07" width="5.54" height="4.14" fill="#4c2adb"/>
<path d="M321 249.5V408.9M326.49 249.5V408.9M331.98 249.5V408.9M337.47 249.5V408.9M342.96 249.5V408.9M348.45 249.5V408.9M353.94 249.5V408.9M359.43 249.5V408.9M364.92 249.5V408.9M370.41 249.5V408.9M375.9 249.5V408.9M381.39 249.5V408.9M386.88 249.5V408.9M392.37 249.5V408.9M397.86 249.5V408.9M403.35 249.5V408.9M408.84 249.5V408.9M414.33 249.5V408.9M419.82 249.5V408.9M425.31 249.5V408.9M430.79 249.5V408.9M436.28 249.5V408.9M441.77 249.5V408.9M447.26 249.5V408.9M452.75 249.5V408.9M458.24 249.5V408.9M463.73 249.5V408.9M469.22 249.5V408.9M474.71 249.5V408.9M480.2 249.5V408.9M485.69 249.5V408.9M491.18 249.5V408.9M496.67 249.5V408.9M502.16 249.5V408.9M507.65 249.5V408.9M513.14 249.5V408.9M518.63 249.5V408.9M524.12 249.5V408.9M529.61 249.5V408.9M535.1 249.5V408.9" stroke="#000" stroke-opacity="0.018" stroke-width="3.5" fill="none"/>
<path d="M321 249.5V408.9M326.49 249.5V408.9M331.98 249.5V408.9M337.47 249.5V408.9M342.96 249.5V408.9M348.45 249.5V408.9M353.94 249.5V408.9M359.43 249.5V408.9M364.92 249.5V408.9M370.41 249.5V408.9M375.9 249.5V408.9M381.39 249.5V408.9M386.88 249.5V408.9M392.37 249.5V408.9M397.86 249.5V408.9M403.35 249.5V408.9M408.84 249.5V408.9M414.33 249.5V408.9M419.82 249.5V408.9M425.31 249.5V408.9M430.79 249.5V408.9M436.28 249.5V408.9M441.77 249.5V408.9M447.26 249.5V408.9M452.75 249.5V408.9M458.24 249.5V408.9M463.73 249.5V408.9M469.22 249.5V408.9M474.71 249.5V408.9M480.2 249.5V408.9M485.69 249.5V408.9M491.18 249.5V408.9M496.67 249.5V408.9M502.16 249.5V408.9M507.65 249.5V408.9M513.14 249.5V408.9M518.63 249.5V408.9M524.12 249.5V408.9M529.61 249.5V408.9M535.1 249.5V408.9" stroke="#000" stroke-opacity="0.118" stroke-width="2.5" fill="none"/>
<path d="M321 249.5V408.9M326.49 249.5V408.9M331.98 249.5V408.9M337.47 249.5V408.9M342.96 249.5V408.9M348.45 249.5V408.9M353.94 249.5V408.9M359.43 249.5V408.9M364.92 249.5V408.9M370.41 249.5V408.9M375.9 249.5V408.9M381.39 249.5V408.9M386.88 249.5V408.9M392.37 249.5V408.9M397.86 249.5V408.9M403.35 249.5V408.9M408.84 249.5V408.9M414.33 249.5V408.9M419.82 249.5V408.9M425.31 249.5V408.9M430.79 249.5V408.9M436.28 249.5V408.9M441.77 249.5V408.9M447.26 249.5V408.9M452.75 249.5V408.9M458.24 249.5V408.9M463.73 249.5V408.9M469.22 249.5V408.9M474.71 249.5V408.9M480.2 249.5V408.9M485.69 249.5V408.9M491.18 249.5V408.9M496.67 249.5V408.9M502.16 249.5V408.9M507.65 249.5V408.9M513.14 249.5V408.9M518.63 249.5V408.9M524.12 249.5V408.9M529.61 249.5V408.9M535.1 249.5V408.9" stroke="#000" stroke-opacity="0.344" stroke-width="1.5" fill="none"/>
<path d="M321 249.5V408.9M326.49 249.5V408.9M331.98 249.5V408.9M337.47 249.5V408.9M342.96 249.5V408.9M348.45 249.5V408.9M353.94 249.5V408.9M359.43 249.5V408.9M364.92 249.5V408.9M370.41 249.5V408.9M375.9 249.5V408.9M381.39 249.5V408.9M386.88 249.5V408.9M392.37 249.5V408.9M397.86 249.5V408.9M403.35 249.5V408.9M408.84 249.5V408.9M414.33 249.5V408.9M419.82 249.5V408.9M425.31 249.5V408.9M430.79 249.5V408.9M436.28 249.5V408.9M441.77 249.5V408.9M447.26 249.5V408.9M452.75 249.5V408.9M458.24 249.5V408.9M463.73 249.5V408.9M469.22 249.5V408.9M474.71 249.5V408.9M480.2 249.5V408.9M485.69 249.5V408.9M491.18 249.5V408.9M496.67 249.5V408.9M502.16 249.5V408.9M507.65 249.5V408.9M513.14 249.5V408.9M518.63 249.5V408.9M524.12 249.5V408.9M529.61 249.5V408.9M535.1 249.5V408.9" stroke="#000" stroke-opacity="0.353" stroke-width="0.6" fill="none"/>
<path d="M321 249.5H535.1M321 253.59H535.1M321 257.67H535.1M321 261.76H535.1M321 265.85H535.1M321 269.94H535.1M321 274.02H535.1M321 278.11H535.1M321 282.2H535.1M321 286.28H535.1M321 290.37H535.1M321 294.46H535.1M321 298.55H535.1M321 302.63H535.1M321 306.72H535.1M321 310.81H535.1M321 314.89H535.1M321 318.98H535.1M321 323.07H535.1M321 327.16H535.1M321 331.24H535.1M321 335.33H535.1M321 339.42H535.1M321 343.51H535.1M321 347.59H535.1M321 351.68H535.1M321 355.77H535.1M321 359.85H535.1M321 363.94H535.1M321 368.03H535.1M321 372.12H535.1M321 376.2H535.1M321 380.29H535.1M321 384.38H535.1M321 388.46H535.1M321 392.55H535.1M321 396.64H535.1M321 400.73H535.1M321 404.81H535.1M321 408.9H535.1" stroke="#000" stroke-opacity="0.041" stroke-width="3.5" fill="none"/>
<path d="M321 249.5H535.1M321 253.59H535.1M321 257.67H535.1M321 261.76H535.1M321 265.85H535.1M321 269.94H535.1M321 274.02H535.1M321 278.11H535.1M321 282.2H535.1M321 286.28H535.1M321 290.37H535.1M321 294.46H535.1M321 298.55H535.1M321 302.63H535.1M321 306.72H535.1M321 310.81H535.1M321 314.89H535.1M321 318.98H535.1M321 323.07H535.1M321 327.16H535.1M321 331.24H535.1M321 335.33H535.1M321 339.42H535.1M321 343.51H535.1M321 347.59H535.1M321 351.68H535.1M321 355.77H535.1M321 359.85H535.1M321 363.94H535.1M321 368.03H535.1M321 372.12H535.1M321 376.2H535.1M321 380.29H535.1M321 384.38H535.1M321 388.46H535.1M321 392.55H535.1M321 396.64H535.1M321 400.73H535.1M321 404.81H535.1M321 408.9H535.1" stroke="#000" stroke-opacity="0.196" stroke-width="2.5" fill="none"/>
<path d="M321 249.5H535.1M321 253.59H535.1M321 257.67H535.1M321 261.76H535.1M321 265.85H535.1M321 269.94H535.1M321 274.02H535.1M321 278.11H535.1M321 282.2H535.1M321 286.28H535.1M321 290.37H535.1M321 294.46H535.1M321 298.55H535.1M321 302.63H535.1M321 306.72H535.1M321 310.81H535.1M321 314.89H535.1M321 318.98H535.1M321 323.07H535.1M321 327.16H535.1M321 331.24H535.1M321 335.33H535.1M321 339.42H535.1M321 343.51H535.1M321 347.59H535.1M321 351.68H535.1M321 355.77H535.1M321 359.85H535.1M321 363.94H535.1M321 368.03H535.1M321 372.12H535.1M321 376.2H535.1M321 380.29H535.1M321 384.38H535.1M321 388.46H535.1M321 392.55H535.1M321 396.64H535.1M321 400.73H535.1M321 404.81H535.1M321 408.9H535.1" stroke="#000" stroke-opacity="0.469" stroke-width="1.5" fill="none"/>
<path d="M321 249.5H535.1M321 253.59H535.1M321 257.67H535.1M321 261.76H535.1M321 265.85H535.1M321 269.94H535.1M321 274.02H535.1M321 278.11H535.1M321 282.2H535.1M321 286.28H535.1M321 290.37H535.1M321 294.46H535.1M321 298.55H535.1M321 302.63H535.1M321 306.72H535.1M321 310.81H535.1M321 314.89H535.1M321 318.98H535.1M321 323.07H535.1M321 327.16H535.1M321 331.24H535.1M321 335.33H535.1M321 339.42H535.1M321 343.51H535.1M321 347.59H535.1M321 351.68H535.1M321 355.77H535.1M321 359.85H535.1M321 363.94H535.1M321 368.03H535.1M321 372.12H535.1M321 376.2H535.1M321 380.29H535.1M321 384.38H535.1M321 388.46H535.1M321 392.55H535.1M321 396.64H535.1M321 400.73H535.1M321 404.81H535.1M321 408.9H535.1" stroke="#000" stroke-opacity="0.493" stroke-width="0.6" fill="none"/>
<rect x="321.05" y="249.7" width="214.2" height="159.4" fill="none" stroke="#000" stroke-opacity="0.75" stroke-width="1.3"/>
<ellipse cx="370.41" cy="331.24" rx="25.25" ry="18.8" fill="url(#glowL)" opacity="0.8"/>
<ellipse cx="480.2" cy="331.24" rx="25.25" ry="18.8" fill="url(#glowH)" opacity="0.8"/>
</g>
<text transform="translate(89.12 195.9) scale(1.1 1)" font-size="10.7" fill="#303030" text-anchor="middle" font-weight="bold">10</text>
<text transform="translate(144.24 195.9) scale(1.1 1)" font-size="10.7" fill="#303030" text-anchor="middle" font-weight="bold">20</text>
<text transform="translate(199.37 195.9) scale(1.1 1)" font-size="10.7" fill="#303030" text-anchor="middle" font-weight="bold">30</text>
<text transform="translate(254.5 195.9) scale(1.1 1)" font-size="10.7" fill="#303030" text-anchor="middle" font-weight="bold">40</text>
<text transform="translate(36.8 167.37) scale(1.1 1)" font-size="10.7" fill="#303030" text-anchor="end" font-weight="bold">5</text>
<text transform="translate(36.8 145.96) scale(1.1 1)" font-size="10.7" fill="#303030" text-anchor="end" font-weight="bold">10</text>
<text transform="translate(36.8 124.55) scale(1.1 1)" font-size="10.7" fill="#303030" text-anchor="end" font-weight="bold">15</text>
<text transform="translate(36.8 103.14) scale(1.1 1)" font-size="10.7" fill="#303030" text-anchor="end" font-weight="bold">20</text>
<text transform="translate(36.8 81.73) scale(1.1 1)" font-size="10.7" fill="#303030" text-anchor="end" font-weight="bold">25</text>
<text transform="translate(36.8 60.32) scale(1.1 1)" font-size="10.7" fill="#303030" text-anchor="end" font-weight="bold">30</text>
<text transform="translate(36.8 38.91) scale(1.1 1)" font-size="10.7" fill="#303030" text-anchor="end" font-weight="bold">35</text>
<text transform="translate(36.8 17.5) scale(1.1 1)" font-size="10.7" fill="#303030" text-anchor="end" font-weight="bold">40</text>
<text transform="translate(146 211.8) scale(1.12 1)" font-size="11" fill="#303030" text-anchor="middle" font-weight="bold">x (cell)</text>
<text transform="translate(17.1 96.2) rotate(-90) scale(1.13 1)" font-size="11" fill="#303030" text-anchor="middle" font-weight="bold">y (cell)</text>
<text transform="translate(133 235) scale(1 1)" font-family="'Liberation Serif',serif" font-size="15" fill="#1a1a1a" text-anchor="middle">(<tspan font-weight="bold">a</tspan>)</text>
<path d="M89.5 142.4L143.9 142.4" stroke="#fb0420" stroke-width="3.1" fill="none"/>
<path d="M151.2 142.4L141.2 147.9L143.9 142.4L141.2 136.9Z" fill="#fb0420"/>
<path d="M67.8 164.7L123.1 164.7" stroke="#fb0420" stroke-width="3.1" fill="none"/>
<path d="M130.4 164.7L120.4 170.3L123.1 164.7L120.4 159.1Z" fill="#fb0420"/>
<text transform="translate(98.5 56.3) scale(1.02 1)" font-size="10.8" fill="#fb0420" text-anchor="start" font-weight="bold">Initial UAV location</text>
<path d="M144.6 58L146.87 85.84" stroke="#fff" stroke-width="1.2" fill="none"/>
<path d="M147.4 92.3L141.19 83.78L146.87 85.84L152.15 82.88Z" fill="#fff" stroke="#fff" stroke-width="0.7" stroke-linejoin="round"/>
<circle cx="147.4" cy="96.6" r="2.9" fill="#fff" stroke="#f0102e" stroke-width="1.5"/>
<text transform="translate(150.2 153.5) scale(1.05 1)" font-size="10.5" fill="#fff" text-anchor="start" font-weight="bold">Targets moving</text>
<text transform="translate(150.2 167.3) scale(1.02 1)" font-size="10.5" fill="#fff" text-anchor="start" font-weight="bold">East</text>
<text transform="translate(370.16 198.5) scale(1.08 1)" font-size="10.9" fill="#303030" text-anchor="middle" font-weight="bold">10</text>
<text transform="translate(425.67 198.5) scale(1.08 1)" font-size="10.9" fill="#303030" text-anchor="middle" font-weight="bold">20</text>
<text transform="translate(481.19 198.5) scale(1.08 1)" font-size="10.9" fill="#303030" text-anchor="middle" font-weight="bold">30</text>
<text transform="translate(536.7 198.5) scale(1.08 1)" font-size="10.9" fill="#303030" text-anchor="middle" font-weight="bold">40</text>
<text transform="translate(317 170.08) scale(1.08 1)" font-size="10.9" fill="#303030" text-anchor="end" font-weight="bold">5</text>
<text transform="translate(317 147.82) scale(1.08 1)" font-size="10.9" fill="#303030" text-anchor="end" font-weight="bold">10</text>
<text transform="translate(317 125.55) scale(1.08 1)" font-size="10.9" fill="#303030" text-anchor="end" font-weight="bold">15</text>
<text transform="translate(317 103.28) scale(1.08 1)" font-size="10.9" fill="#303030" text-anchor="end" font-weight="bold">20</text>
<text transform="translate(317 81.01) scale(1.08 1)" font-size="10.9" fill="#303030" text-anchor="end" font-weight="bold">25</text>
<text transform="translate(317 58.74) scale(1.08 1)" font-size="10.9" fill="#303030" text-anchor="end" font-weight="bold">30</text>
<text transform="translate(317 36.47) scale(1.08 1)" font-size="10.9" fill="#303030" text-anchor="end" font-weight="bold">35</text>
<text transform="translate(317 14.2) scale(1.08 1)" font-size="10.9" fill="#303030" text-anchor="end" font-weight="bold">40</text>
<text transform="translate(428.6 215) scale(1.2 1)" font-size="11" fill="#303030" text-anchor="middle" font-weight="bold">x (cell)</text>
<text transform="translate(297.3 97.6) rotate(-90) scale(1.08 1)" font-size="11" fill="#303030" text-anchor="middle" font-weight="bold">y (cell)</text>
<text transform="translate(414.5 234.5) scale(1.02 1)" font-family="'Liberation Serif',serif" font-size="15" fill="#1a1a1a" text-anchor="middle">(<tspan font-weight="bold">b</tspan>)</text>
<path d="M370.6 53.2L344.74 90.72" stroke="#fb0420" stroke-width="3.1" fill="none"/>
<path d="M340 97.6L341.55 85.31L344.74 90.72L350.94 91.78Z" fill="#fb0420"/>
<path d="M370.8 143.8L336.41 170.39" stroke="#fb0420" stroke-width="3.1" fill="none"/>
<path d="M329.8 175.5L335.02 164.26L336.41 170.39L341.99 173.28Z" fill="#fb0420"/>
<path d="M410 147L387.81 144.67" stroke="#fb0420" stroke-width="3.1" fill="none"/>
<path d="M379.5 143.8L391.03 139.28L387.81 144.67L389.85 150.62Z" fill="#fb0420"/>
<text transform="translate(405.7 105.7) scale(1.07 1)" font-size="11.2" fill="#fb0420" text-anchor="start" font-weight="bold">Initial UAV location</text>
<path d="M400.5 100.5L385.44 98.6" stroke="#fff" stroke-width="1.2" fill="none"/>
<path d="M378.3 97.7L388.91 93.49L385.44 98.6L387.53 104.41Z" fill="#fff" stroke="#fff" stroke-width="0.7" stroke-linejoin="round"/>
<circle cx="373.3" cy="97" r="2.9" fill="#fff" stroke="#f0102e" stroke-width="1.5"/>
<text transform="translate(506.2 145.8) scale(1.11 1)" font-size="11" fill="#fff" text-anchor="end" font-weight="bold">Targets moving</text>
<text transform="translate(506.2 159) scale(1.07 1)" font-size="11" fill="#fff" text-anchor="end" font-weight="bold">South-West</text>
<text transform="translate(89.32 422.2) scale(1.09 1)" font-size="10.6" fill="#303030" text-anchor="middle" font-weight="bold">10</text>
<text transform="translate(145.02 422.2) scale(1.09 1)" font-size="10.6" fill="#303030" text-anchor="middle" font-weight="bold">20</text>
<text transform="translate(200.71 422.2) scale(1.09 1)" font-size="10.6" fill="#303030" text-anchor="middle" font-weight="bold">30</text>
<text transform="translate(256.4 422.2) scale(1.09 1)" font-size="10.6" fill="#303030" text-anchor="middle" font-weight="bold">40</text>
<text transform="translate(36.2 396.67) scale(1.09 1)" font-size="10.6" fill="#303030" text-anchor="end" font-weight="bold">5</text>
<text transform="translate(36.2 375.76) scale(1.09 1)" font-size="10.6" fill="#303030" text-anchor="end" font-weight="bold">10</text>
<text transform="translate(36.2 354.85) scale(1.09 1)" font-size="10.6" fill="#303030" text-anchor="end" font-weight="bold">15</text>
<text transform="translate(36.2 333.94) scale(1.09 1)" font-size="10.6" fill="#303030" text-anchor="end" font-weight="bold">20</text>
<text transform="translate(36.2 313.03) scale(1.09 1)" font-size="10.6" fill="#303030" text-anchor="end" font-weight="bold">25</text>
<text transform="translate(36.2 292.12) scale(1.09 1)" font-size="10.6" fill="#303030" text-anchor="end" font-weight="bold">30</text>
<text transform="translate(36.2 271.21) scale(1.09 1)" font-size="10.6" fill="#303030" text-anchor="end" font-weight="bold">35</text>
<text transform="translate(36.2 250.3) scale(1.09 1)" font-size="10.6" fill="#303030" text-anchor="end" font-weight="bold">40</text>
<text transform="translate(147.3 438.2) scale(1.25 1)" font-size="10.5" fill="#303030" text-anchor="middle" font-weight="bold">x (cell)</text>
<text transform="translate(17 328.4) rotate(-90)" font-size="11" fill="#303030" text-anchor="middle" font-weight="bold">y (cell)</text>
<text transform="translate(133 459.2) scale(1 1)" font-family="'Liberation Serif',serif" font-size="15" fill="#1a1a1a" text-anchor="middle">(<tspan font-weight="bold">c</tspan>)</text>
<path d="M158.5 334.4L171.08 342.75" stroke="#fb0420" stroke-width="1" fill="none"/>
<path d="M179 348L168.46 346.71L171.08 342.75L173.71 338.79Z" fill="#fb0420"/>
<text transform="translate(186.3 342.5) scale(1.1 1)" font-size="10.6" fill="#fff" text-anchor="start" font-weight="bold">Target</text>
<text transform="translate(186.3 355.8) scale(1.1 1)" font-size="10.6" fill="#fff" text-anchor="start" font-weight="bold">moving</text>
<text transform="translate(186.3 369.4) scale(1.1 1)" font-size="10.6" fill="#fff" text-anchor="start" font-weight="bold">South-East</text>
<path d="M148.7 388.2L148.7 380.17" stroke="#fff" stroke-width="1.2" fill="none"/>
<path d="M148.7 373.2L154.45 381.7L148.7 380.17L142.95 381.7Z" fill="#fff" stroke="#fff" stroke-width="0.7" stroke-linejoin="round"/>
<circle cx="148.7" cy="369" r="2.9" fill="#fff" stroke="#f0102e" stroke-width="1.5"/>
<text transform="translate(96.4 398.8) scale(1.11 1)" font-size="10.7" fill="#fb0420" text-anchor="start" font-weight="bold">Initial UAV location</text>
<text transform="translate(369.61 423.5) scale(1.1 1)" font-size="10.3" fill="#303030" text-anchor="middle" font-weight="bold">10</text>
<text transform="translate(424.51 423.5) scale(1.1 1)" font-size="10.3" fill="#303030" text-anchor="middle" font-weight="bold">20</text>
<text transform="translate(479.4 423.5) scale(1.1 1)" font-size="10.3" fill="#303030" text-anchor="middle" font-weight="bold">30</text>
<text transform="translate(534.3 423.5) scale(1.1 1)" font-size="10.3" fill="#303030" text-anchor="middle" font-weight="bold">40</text>
<text transform="translate(317 396.95) scale(1.1 1)" font-size="10.3" fill="#303030" text-anchor="end" font-weight="bold">5</text>
<text transform="translate(317 376.52) scale(1.1 1)" font-size="10.3" fill="#303030" text-anchor="end" font-weight="bold">10</text>
<text transform="translate(317 356.08) scale(1.1 1)" font-size="10.3" fill="#303030" text-anchor="end" font-weight="bold">15</text>
<text transform="translate(317 335.64) scale(1.1 1)" font-size="10.3" fill="#303030" text-anchor="end" font-weight="bold">20</text>
<text transform="translate(317 315.21) scale(1.1 1)" font-size="10.3" fill="#303030" text-anchor="end" font-weight="bold">25</text>
<text transform="translate(317 294.77) scale(1.1 1)" font-size="10.3" fill="#303030" text-anchor="end" font-weight="bold">30</text>
<text transform="translate(317 274.34) scale(1.1 1)" font-size="10.3" fill="#303030" text-anchor="end" font-weight="bold">35</text>
<text transform="translate(317 253.9) scale(1.1 1)" font-size="10.3" fill="#303030" text-anchor="end" font-weight="bold">40</text>
<text transform="translate(427 440.3) scale(1.12 1)" font-size="11" fill="#303030" text-anchor="middle" font-weight="bold">x (cell)</text>
<text transform="translate(298.2 329.9) rotate(-90) scale(1.07 1)" font-size="11" fill="#303030" text-anchor="middle" font-weight="bold">y (cell)</text>
<text transform="translate(415 458.6) scale(1.04 1)" font-family="'Liberation Serif',serif" font-size="15" fill="#1a1a1a" text-anchor="middle">(<tspan font-weight="bold">d</tspan>)</text>
<path d="M370.7 328L370.7 296.2" stroke="#fb0420" stroke-width="3" fill="none"/>
<path d="M370.7 289.5L376.3 298.8L370.7 296.2L365.1 298.8Z" fill="#fb0420"/>
<path d="M480.3 328L480.3 296.2" stroke="#fb0420" stroke-width="2.5" fill="none"/>
<path d="M480.3 289.5L485.8 298.8L480.3 296.2L474.8 298.8Z" fill="#fb0420"/>
<text transform="translate(373.6 283.2) scale(1.09 1)" font-size="11" fill="#fff" text-anchor="start" font-weight="bold">Targets moving North</text>
<path d="M427.5 365L427.5 341.04" stroke="#fff" stroke-width="1.5" fill="none"/>
<path d="M427.5 334L433 342.8L427.5 341.04L422 342.8Z" fill="#fff" stroke="#fff" stroke-width="0.7" stroke-linejoin="round"/>
<circle cx="427.5" cy="329.6" r="2.9" fill="#fff" stroke="#f0102e" stroke-width="1.5"/>
<text transform="translate(410 376) scale(1.11 1)" font-size="11" fill="#fb0420" text-anchor="start" font-weight="bold">Initial UAV</text>
<text transform="translate(410 388.2) scale(1.08 1)" font-size="11" fill="#fb0420" text-anchor="start" font-weight="bold">location</text>
</svg></body></html>
